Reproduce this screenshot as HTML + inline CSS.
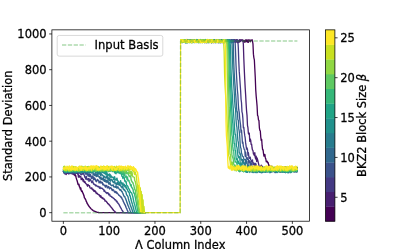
<!DOCTYPE html>
<html><head><meta charset="utf-8"><title>BKZ2 Standard Deviation</title>
<style>html,body{margin:0;padding:0;background:#fff;}body{width:415px;height:249px;overflow:hidden;}svg{display:block;}</style>
</head><body>
<svg width="415" height="249" viewBox="0 0 415 249">
<rect width="415" height="249" fill="#fff"/>
<g fill="none" stroke-width="1.15" stroke-linejoin="round" stroke-linecap="butt">
<polyline stroke="#440154" stroke-width="1.4" points="63.36,171.93 63.82,170.80 64.28,171.31 64.73,173.61 65.19,173.29 65.65,170.90 66.11,174.53 66.57,171.11 67.02,171.22 67.48,172.59 67.94,173.28 68.40,173.38 68.86,173.48 69.31,172.69 69.77,172.44 70.23,172.23 70.69,170.39 71.15,171.23 71.60,171.95 72.06,170.41 72.52,173.65 72.98,173.88 73.44,171.99 73.89,174.42 74.35,175.06 74.81,174.21 75.27,175.80 75.73,175.56 76.18,177.89 76.64,179.40 77.10,180.55 77.56,182.44 78.02,184.23 78.47,184.71 78.93,184.28 79.39,186.70 79.85,187.21 80.31,189.12 80.76,187.99 81.22,190.60 81.68,191.28 82.14,190.92 82.60,192.74 83.05,193.13 83.51,194.65 83.97,195.60 84.43,197.80 84.89,198.18 85.34,199.30 85.80,199.86 86.26,201.45 86.72,202.07 87.18,203.50 87.63,204.02 88.09,204.90 88.55,205.80 89.01,206.07 89.47,207.02 89.92,207.29 90.38,208.01 90.84,208.49 91.30,208.94 91.76,209.35 92.21,209.90 92.67,210.17 93.13,210.53 93.59,210.78 94.05,211.07 94.50,211.17 94.96,211.50 95.42,211.65 95.88,211.87 96.34,212.00 96.79,212.16 97.25,212.30 97.71,212.37 98.17,212.46 98.63,212.54 99.08,212.61 99.54,212.65 100.00,212.67 100.46,212.67 100.92,212.67 101.37,212.67 101.83,212.67 102.29,212.67 102.75,212.67 103.21,212.67 103.66,212.67 104.12,212.67 104.58,212.67 105.04,212.67 105.50,212.67 105.95,212.67 106.41,212.67 106.87,212.67 107.33,212.67 107.79,212.67 108.24,212.67 108.70,212.67 109.16,212.67 109.62,212.67 110.08,212.67 110.53,212.67 110.99,212.67 111.45,212.67 111.91,212.67 112.37,212.67 112.82,212.67 113.28,212.67 113.74,212.67 114.20,212.67 114.66,212.67 115.11,212.67 115.57,212.67 116.03,212.67 116.49,212.67 116.95,212.67 117.40,212.67 117.86,212.67 118.32,212.67 118.78,212.67 119.24,212.67 119.69,212.67 120.15,212.67 120.61,212.67 121.07,212.67 121.53,212.67 121.98,212.67 122.44,212.67 122.90,212.67 123.36,212.67 123.82,212.67 124.27,212.67 124.73,212.67 125.19,212.67 125.65,212.67 126.11,212.67 126.56,212.67 127.02,212.67 127.48,212.67 127.94,212.67 128.40,212.67 128.85,212.67 129.31,212.67 129.77,212.67 130.23,212.67 130.69,212.67 131.14,212.67 131.60,212.67 132.06,212.67 132.52,212.67 132.98,212.67 133.43,212.67 133.89,212.67 134.35,212.67 134.81,212.67 135.27,212.67 135.72,212.67 136.18,212.67 136.64,212.67 137.10,212.67 137.56,212.67 138.01,212.67 138.47,212.67 138.93,212.67 139.39,212.67 139.85,212.67 140.30,212.67 140.76,212.67 141.22,212.67 141.68,212.67 142.14,212.67 142.59,212.67 143.05,212.67 143.51,212.67 143.97,212.67 144.43,212.67 144.88,212.67 145.34,212.67"/>
<polyline stroke="#440154" stroke-width="1.3" points="180.61,42.41 181.07,40.31 181.52,40.85 181.98,41.73 182.44,42.42 182.90,40.28 183.36,42.25 183.81,42.25 184.27,42.25 184.73,42.41 185.19,39.83 185.65,41.82 186.10,41.70 186.56,40.06 187.02,40.72 187.48,42.08 187.94,41.30 188.39,39.90 188.85,41.49 189.31,40.44 189.77,42.36 190.23,40.39 190.68,40.23 191.14,40.08 191.60,40.55 192.06,41.50 192.52,42.46 192.97,41.04 193.43,40.29 193.89,42.07 194.35,41.83 194.81,40.99 195.26,40.32 195.72,39.86 196.18,42.27 196.64,42.09 197.10,40.16 197.55,40.65 198.01,40.41 198.47,39.55 198.93,39.73 199.39,40.03 199.84,40.23 200.30,41.43 200.76,40.66 201.22,42.09 201.68,40.29 202.13,40.29 202.59,40.41 203.05,41.27 203.51,41.48 203.97,41.35 204.42,42.56 204.88,40.02 205.34,40.97 205.80,41.45 206.26,40.95 206.71,40.41 207.17,41.47 207.63,40.06 208.09,39.79 208.55,41.45 209.00,42.23 209.46,40.28 209.92,39.56 210.38,42.20 210.84,40.43 211.29,40.08 211.75,39.78 212.21,42.28 212.67,42.38 213.13,39.57 213.58,42.30 214.04,42.11 214.50,40.86 214.96,41.27 215.42,40.32 215.87,42.07 216.33,39.80 216.79,41.98 217.25,40.26 217.71,42.45 218.16,41.18 218.62,42.56 219.08,41.68 219.54,41.69 220.00,40.41 220.45,41.24 220.91,42.49 221.37,39.55 221.83,39.88 222.29,39.80 222.74,41.89 223.20,41.43 223.66,41.95 224.12,42.27 224.58,42.56 225.03,41.09 225.49,42.28 225.95,42.11 226.41,39.97 226.87,41.15 227.32,42.09 227.78,40.57 228.24,41.83 228.70,41.01 229.16,41.78 229.61,41.05 230.07,40.70 230.53,40.99 230.99,41.43 231.45,40.19 231.90,39.93 232.36,42.10 232.82,42.24 233.28,42.31 233.74,39.60 234.19,39.72 234.65,41.94 235.11,39.63 235.57,42.01 236.03,41.08 236.48,41.11 236.94,39.80 237.40,42.54 237.86,41.68 238.32,40.79 238.77,42.45 239.23,41.92 239.69,41.21 240.15,39.91 240.61,40.28 241.06,40.07 241.52,40.28 241.98,40.45 242.44,40.01 242.90,40.53 243.35,40.36 243.81,41.72 244.27,42.14 244.73,40.30 245.19,42.14 245.64,39.79 246.10,40.80 246.56,41.63 247.02,39.73 247.48,42.18 247.93,41.05 248.39,42.38 248.85,39.64 249.31,40.86 249.77,40.15 250.22,41.78 250.68,40.15 251.14,40.46 251.60,40.65 252.06,39.69 252.51,41.31 252.97,43.87 253.43,54.14 253.89,57.86 254.35,59.80 254.80,68.44 255.26,77.26 255.72,89.60 256.18,96.11 256.64,100.98 257.09,106.18 257.55,115.36 258.01,116.03 258.47,119.93 258.93,120.37 259.38,127.79 259.84,130.37 260.30,130.92 260.76,137.09 261.22,140.42 261.67,139.39 262.13,145.70 262.59,149.56 263.05,149.55 263.51,153.47 263.96,156.12 264.42,155.10 264.88,154.44 265.34,158.01 265.80,158.90 266.25,161.75 266.71,161.36 267.17,161.24 267.63,162.85 268.09,162.46 268.54,164.37 269.00,166.69 269.46,165.32 269.92,166.25 270.38,168.28 270.83,166.60 271.29,166.16 271.75,169.79 272.21,168.28 272.67,167.72 273.12,169.43 273.58,170.11 274.04,169.64 274.50,168.87 274.96,168.22 275.41,168.79 275.87,170.84 276.33,167.62 276.79,167.14 277.25,170.87 277.70,170.20 278.16,170.54 278.62,167.48 279.08,167.20 279.54,171.13 279.99,169.82 280.45,170.46 280.91,169.20 281.37,167.15 281.83,171.01 282.28,170.55 282.74,169.12 283.20,168.95 283.66,167.95 284.12,169.34 284.57,170.69 285.03,169.73 285.49,166.88 285.95,167.93 286.41,170.80 286.86,167.66 287.32,169.92 287.78,167.79 288.24,171.27 288.70,167.38 289.15,170.59 289.61,169.26 290.07,168.33 290.53,169.03 290.99,170.58 291.44,170.70 291.90,170.04 292.36,171.09 292.82,170.35 293.28,170.74 293.73,169.22 294.19,169.71 294.65,168.67 295.11,170.06 295.57,171.18 296.02,169.83 296.48,167.91 296.94,170.17 297.40,169.50"/>
<polyline stroke="#481f70" stroke-width="1.4" points="63.36,171.01 63.82,172.48 64.28,170.45 64.73,170.32 65.19,172.89 65.65,171.09 66.11,173.13 66.57,173.61 67.02,172.35 67.48,171.65 67.94,170.25 68.40,173.58 68.86,171.19 69.31,172.19 69.77,173.64 70.23,170.09 70.69,171.26 71.15,173.65 71.60,170.37 72.06,173.76 72.52,173.80 72.98,172.80 73.44,170.24 73.89,174.06 74.35,170.32 74.81,171.61 75.27,174.02 75.73,172.21 76.18,173.12 76.64,173.24 77.10,173.16 77.56,174.03 78.02,173.40 78.47,177.17 78.93,175.15 79.39,177.14 79.85,176.25 80.31,176.35 80.76,176.49 81.22,179.56 81.68,179.38 82.14,178.17 82.60,178.65 83.05,181.05 83.51,179.64 83.97,181.83 84.43,182.37 84.89,181.59 85.34,182.92 85.80,183.41 86.26,184.01 86.72,184.28 87.18,185.55 87.63,186.17 88.09,184.58 88.55,185.53 89.01,185.63 89.47,185.68 89.92,187.63 90.38,188.00 90.84,188.27 91.30,188.59 91.76,187.83 92.21,189.19 92.67,189.70 93.13,189.34 93.59,190.80 94.05,191.37 94.50,190.42 94.96,190.70 95.42,192.12 95.88,191.80 96.34,193.48 96.79,193.11 97.25,193.17 97.71,194.23 98.17,194.45 98.63,194.37 99.08,194.82 99.54,196.02 100.00,195.45 100.46,196.95 100.92,195.86 101.37,197.55 101.83,197.87 102.29,198.36 102.75,197.59 103.21,199.05 103.66,199.02 104.12,198.92 104.58,199.43 105.04,201.03 105.50,200.85 105.95,201.19 106.41,201.51 106.87,202.36 107.33,202.80 107.79,203.56 108.24,203.96 108.70,203.95 109.16,204.88 109.62,205.32 110.08,205.80 110.53,206.57 110.99,207.19 111.45,207.30 111.91,208.19 112.37,208.89 112.82,209.29 113.28,210.07 113.74,210.53 114.20,210.88 114.66,211.36 115.11,211.79 115.57,212.15 116.03,212.39 116.49,212.57 116.95,212.66 117.40,212.67 117.86,212.67 118.32,212.67 118.78,212.67 119.24,212.67 119.69,212.67 120.15,212.67 120.61,212.67 121.07,212.67 121.53,212.67 121.98,212.67 122.44,212.67 122.90,212.67 123.36,212.67 123.82,212.67 124.27,212.67 124.73,212.67 125.19,212.67 125.65,212.67 126.11,212.67 126.56,212.67 127.02,212.67 127.48,212.67 127.94,212.67 128.40,212.67 128.85,212.67 129.31,212.67 129.77,212.67 130.23,212.67 130.69,212.67 131.14,212.67 131.60,212.67 132.06,212.67 132.52,212.67 132.98,212.67 133.43,212.67 133.89,212.67 134.35,212.67 134.81,212.67 135.27,212.67 135.72,212.67 136.18,212.67 136.64,212.67 137.10,212.67 137.56,212.67 138.01,212.67 138.47,212.67 138.93,212.67 139.39,212.67 139.85,212.67 140.30,212.67 140.76,212.67 141.22,212.67 141.68,212.67 142.14,212.67 142.59,212.67 143.05,212.67 143.51,212.67 143.97,212.67 144.43,212.67 144.88,212.67 145.34,212.67"/>
<polyline stroke="#481f70" stroke-width="1.3" points="180.61,39.83 181.07,41.89 181.52,40.41 181.98,41.70 182.44,39.87 182.90,41.43 183.36,41.08 183.81,39.92 184.27,40.56 184.73,42.37 185.19,42.23 185.65,39.56 186.10,42.57 186.56,41.72 187.02,39.66 187.48,42.62 187.94,42.16 188.39,42.00 188.85,42.39 189.31,41.19 189.77,40.81 190.23,41.67 190.68,42.32 191.14,40.13 191.60,40.15 192.06,40.90 192.52,42.23 192.97,40.97 193.43,40.69 193.89,41.32 194.35,39.96 194.81,41.44 195.26,41.06 195.72,42.31 196.18,40.90 196.64,40.27 197.10,40.38 197.55,41.86 198.01,39.56 198.47,40.41 198.93,41.34 199.39,41.36 199.84,40.23 200.30,42.11 200.76,40.66 201.22,40.41 201.68,41.05 202.13,39.93 202.59,41.20 203.05,41.21 203.51,41.77 203.97,39.79 204.42,41.67 204.88,40.49 205.34,41.38 205.80,39.74 206.26,39.70 206.71,42.57 207.17,39.55 207.63,40.77 208.09,42.43 208.55,41.11 209.00,42.51 209.46,40.95 209.92,42.08 210.38,41.51 210.84,41.71 211.29,40.78 211.75,40.09 212.21,39.73 212.67,41.63 213.13,40.88 213.58,42.64 214.04,41.50 214.50,39.66 214.96,42.29 215.42,39.94 215.87,40.62 216.33,41.74 216.79,40.23 217.25,41.76 217.71,39.86 218.16,42.40 218.62,42.29 219.08,40.32 219.54,41.26 220.00,42.20 220.45,41.06 220.91,41.73 221.37,40.94 221.83,40.34 222.29,39.98 222.74,42.48 223.20,40.81 223.66,39.59 224.12,41.22 224.58,40.26 225.03,42.36 225.49,39.93 225.95,40.84 226.41,39.88 226.87,40.20 227.32,39.94 227.78,42.48 228.24,40.42 228.70,42.05 229.16,41.83 229.61,41.65 230.07,40.81 230.53,40.70 230.99,39.75 231.45,42.62 231.90,42.06 232.36,41.53 232.82,40.10 233.28,40.94 233.74,41.06 234.19,40.29 234.65,40.61 235.11,41.76 235.57,42.39 236.03,41.22 236.48,39.91 236.94,40.79 237.40,42.50 237.86,41.29 238.32,41.46 238.77,40.84 239.23,40.83 239.69,39.69 240.15,41.61 240.61,41.39 241.06,40.74 241.52,39.89 241.98,40.45 242.44,41.19 242.90,40.11 243.35,44.25 243.81,58.45 244.27,69.40 244.73,78.92 245.19,87.77 245.64,94.77 246.10,103.46 246.56,110.76 247.02,115.34 247.48,125.34 247.93,127.55 248.39,133.38 248.85,134.29 249.31,133.20 249.77,141.26 250.22,138.95 250.68,140.19 251.14,144.35 251.60,144.11 252.06,148.01 252.51,150.05 252.97,150.48 253.43,153.83 253.89,154.42 254.35,155.63 254.80,152.68 255.26,157.59 255.72,159.18 256.18,156.11 256.64,161.52 257.09,157.89 257.55,159.42 258.01,161.38 258.47,163.34 258.93,165.27 259.38,166.43 259.84,167.08 260.30,166.50 260.76,166.89 261.22,165.12 261.67,167.61 262.13,166.10 262.59,167.82 263.05,170.73 263.51,169.00 263.96,170.78 264.42,171.32 264.88,167.24 265.34,169.97 265.80,170.64 266.25,171.04 266.71,168.55 267.17,169.42 267.63,171.45 268.09,168.27 268.54,170.34 269.00,167.97 269.46,169.29 269.92,169.08 270.38,169.43 270.83,168.45 271.29,167.03 271.75,167.90 272.21,171.19 272.67,169.26 273.12,170.44 273.58,171.04 274.04,170.62 274.50,170.38 274.96,167.16 275.41,168.14 275.87,167.65 276.33,168.34 276.79,170.07 277.25,169.73 277.70,169.51 278.16,170.17 278.62,169.60 279.08,168.02 279.54,171.16 279.99,170.25 280.45,169.34 280.91,168.45 281.37,168.58 281.83,168.22 282.28,171.02 282.74,170.68 283.20,170.10 283.66,170.23 284.12,168.09 284.57,167.01 285.03,168.41 285.49,171.35 285.95,170.16 286.41,167.87 286.86,167.32 287.32,168.81 287.78,169.92 288.24,169.90 288.70,168.64 289.15,167.60 289.61,169.96 290.07,170.64 290.53,171.49 290.99,170.88 291.44,167.65 291.90,168.68 292.36,167.03 292.82,171.19 293.28,169.85 293.73,167.91 294.19,168.51 294.65,171.20 295.11,169.69 295.57,168.62 296.02,168.39 296.48,169.46 296.94,170.65 297.40,167.14"/>
<polyline stroke="#443983" stroke-width="1.4" points="63.36,171.86 63.82,170.79 64.28,171.56 64.73,173.50 65.19,172.83 65.65,173.57 66.11,173.03 66.57,172.99 67.02,172.08 67.48,172.47 67.94,172.30 68.40,170.36 68.86,173.75 69.31,173.40 69.77,170.40 70.23,171.57 70.69,171.97 71.15,172.70 71.60,171.53 72.06,172.90 72.52,170.19 72.98,170.33 73.44,172.47 73.89,173.74 74.35,170.06 74.81,172.57 75.27,171.05 75.73,170.19 76.18,170.44 76.64,170.17 77.10,171.76 77.56,170.26 78.02,171.91 78.47,172.84 78.93,172.06 79.39,172.87 79.85,171.29 80.31,171.31 80.76,174.48 81.22,174.72 81.68,174.18 82.14,174.25 82.60,172.69 83.05,173.18 83.51,173.51 83.97,174.86 84.43,175.48 84.89,177.41 85.34,177.41 85.80,179.13 86.26,176.43 86.72,178.78 87.18,179.80 87.63,179.28 88.09,179.59 88.55,178.53 89.01,181.34 89.47,180.91 89.92,179.00 90.38,179.50 90.84,180.60 91.30,181.18 91.76,182.61 92.21,180.87 92.67,181.59 93.13,182.71 93.59,184.14 94.05,184.31 94.50,184.15 94.96,184.63 95.42,185.75 95.88,185.07 96.34,185.28 96.79,186.07 97.25,186.11 97.71,186.58 98.17,186.77 98.63,186.43 99.08,187.07 99.54,188.17 100.00,186.92 100.46,187.96 100.92,188.41 101.37,188.08 101.83,188.31 102.29,188.39 102.75,188.81 103.21,189.48 103.66,189.68 104.12,191.31 104.58,190.39 105.04,191.73 105.50,192.05 105.95,192.68 106.41,192.42 106.87,193.56 107.33,192.60 107.79,192.78 108.24,193.12 108.70,194.76 109.16,194.15 109.62,194.18 110.08,196.04 110.53,196.14 110.99,196.40 111.45,196.47 111.91,197.36 112.37,197.17 112.82,197.90 113.28,197.86 113.74,198.49 114.20,198.71 114.66,199.78 115.11,199.63 115.57,200.07 116.03,200.58 116.49,201.86 116.95,201.35 117.40,202.29 117.86,203.13 118.32,203.55 118.78,204.17 119.24,204.94 119.69,205.95 120.15,206.78 120.61,207.58 121.07,208.25 121.53,209.24 121.98,210.14 122.44,210.75 122.90,211.42 123.36,211.95 123.82,212.30 124.27,212.58 124.73,212.67 125.19,212.67 125.65,212.67 126.11,212.67 126.56,212.67 127.02,212.67 127.48,212.67 127.94,212.67 128.40,212.67 128.85,212.67 129.31,212.67 129.77,212.67 130.23,212.67 130.69,212.67 131.14,212.67 131.60,212.67 132.06,212.67 132.52,212.67 132.98,212.67 133.43,212.67 133.89,212.67 134.35,212.67 134.81,212.67 135.27,212.67 135.72,212.67 136.18,212.67 136.64,212.67 137.10,212.67 137.56,212.67 138.01,212.67 138.47,212.67 138.93,212.67 139.39,212.67 139.85,212.67 140.30,212.67 140.76,212.67 141.22,212.67 141.68,212.67 142.14,212.67 142.59,212.67 143.05,212.67 143.51,212.67 143.97,212.67 144.43,212.67 144.88,212.67 145.34,212.67"/>
<polyline stroke="#443983" stroke-width="1.3" points="180.61,39.62 181.07,42.64 181.52,41.74 181.98,40.09 182.44,42.36 182.90,39.76 183.36,40.05 183.81,42.22 184.27,40.81 184.73,40.93 185.19,40.49 185.65,41.70 186.10,41.46 186.56,41.91 187.02,41.75 187.48,42.11 187.94,39.83 188.39,39.89 188.85,41.54 189.31,40.49 189.77,41.13 190.23,41.78 190.68,41.57 191.14,39.64 191.60,41.59 192.06,40.85 192.52,39.71 192.97,41.73 193.43,40.13 193.89,42.31 194.35,40.37 194.81,40.14 195.26,40.04 195.72,39.61 196.18,40.44 196.64,39.61 197.10,41.79 197.55,41.03 198.01,41.99 198.47,42.40 198.93,41.29 199.39,40.41 199.84,40.23 200.30,42.61 200.76,39.72 201.22,41.89 201.68,41.75 202.13,40.06 202.59,39.87 203.05,40.36 203.51,41.62 203.97,41.22 204.42,40.05 204.88,41.55 205.34,40.14 205.80,40.22 206.26,41.20 206.71,39.86 207.17,41.46 207.63,40.32 208.09,40.66 208.55,41.63 209.00,41.00 209.46,40.77 209.92,40.98 210.38,42.32 210.84,39.56 211.29,39.64 211.75,42.55 212.21,39.71 212.67,41.00 213.13,42.27 213.58,40.10 214.04,41.31 214.50,40.43 214.96,40.08 215.42,40.98 215.87,42.51 216.33,40.09 216.79,40.49 217.25,39.82 217.71,41.82 218.16,40.21 218.62,39.93 219.08,41.55 219.54,41.38 220.00,41.62 220.45,42.64 220.91,41.94 221.37,41.63 221.83,42.32 222.29,40.27 222.74,41.33 223.20,40.89 223.66,41.77 224.12,41.54 224.58,40.31 225.03,41.19 225.49,40.80 225.95,41.34 226.41,40.92 226.87,39.86 227.32,41.83 227.78,41.04 228.24,40.51 228.70,42.39 229.16,39.65 229.61,41.10 230.07,41.90 230.53,40.28 230.99,40.11 231.45,40.69 231.90,39.80 232.36,42.38 232.82,41.01 233.28,40.34 233.74,39.80 234.19,40.66 234.65,40.78 235.11,41.45 235.57,40.87 236.03,40.93 236.48,39.83 236.94,40.08 237.40,40.36 237.86,39.77 238.32,47.85 238.77,61.30 239.23,71.14 239.69,77.18 240.15,84.12 240.61,90.53 241.06,99.26 241.52,102.78 241.98,111.95 242.44,113.68 242.90,118.62 243.35,127.78 243.81,127.19 244.27,131.91 244.73,135.45 245.19,137.85 245.64,142.92 246.10,145.86 246.56,149.18 247.02,147.95 247.48,149.37 247.93,155.26 248.39,152.60 248.85,156.54 249.31,157.91 249.77,158.58 250.22,157.14 250.68,159.54 251.14,160.49 251.60,162.03 252.06,161.53 252.51,159.84 252.97,164.54 253.43,162.80 253.89,162.86 254.35,166.32 254.80,165.71 255.26,163.31 255.72,163.57 256.18,165.03 256.64,169.00 257.09,166.94 257.55,169.02 258.01,170.80 258.47,169.74 258.93,167.89 259.38,168.09 259.84,170.26 260.30,171.73 260.76,167.99 261.22,167.61 261.67,169.73 262.13,171.00 262.59,169.58 263.05,168.90 263.51,169.86 263.96,170.43 264.42,170.90 264.88,170.68 265.34,171.79 265.80,170.87 266.25,167.76 266.71,171.97 267.17,168.76 267.63,168.49 268.09,170.20 268.54,169.35 269.00,171.02 269.46,169.03 269.92,168.85 270.38,168.73 270.83,169.81 271.29,167.68 271.75,168.14 272.21,169.45 272.67,168.96 273.12,170.78 273.58,167.80 274.04,169.13 274.50,168.02 274.96,170.72 275.41,167.63 275.87,171.54 276.33,169.64 276.79,171.51 277.25,171.16 277.70,168.60 278.16,171.71 278.62,170.30 279.08,171.15 279.54,168.21 279.99,171.64 280.45,170.51 280.91,168.19 281.37,168.94 281.83,168.87 282.28,167.59 282.74,171.90 283.20,169.04 283.66,168.68 284.12,168.67 284.57,168.82 285.03,171.69 285.49,171.63 285.95,168.56 286.41,169.28 286.86,170.84 287.32,171.97 287.78,169.63 288.24,171.60 288.70,168.67 289.15,170.49 289.61,168.41 290.07,171.58 290.53,169.80 290.99,171.56 291.44,168.53 291.90,169.51 292.36,170.96 292.82,167.71 293.28,168.97 293.73,170.51 294.19,168.19 294.65,170.31 295.11,167.80 295.57,170.68 296.02,167.62 296.48,171.73 296.94,168.73 297.40,170.71"/>
<polyline stroke="#3b528b" stroke-width="1.4" points="63.36,171.67 63.82,170.76 64.28,173.29 64.73,172.53 65.19,173.04 65.65,170.31 66.11,172.54 66.57,171.35 67.02,172.08 67.48,172.48 67.94,169.47 68.40,171.31 68.86,170.69 69.31,170.46 69.77,169.96 70.23,172.36 70.69,173.15 71.15,171.48 71.60,172.76 72.06,173.40 72.52,169.54 72.98,170.80 73.44,171.71 73.89,172.90 74.35,170.22 74.81,171.20 75.27,172.74 75.73,169.27 76.18,169.40 76.64,169.51 77.10,169.94 77.56,171.21 78.02,172.20 78.47,170.69 78.93,172.84 79.39,170.84 79.85,173.21 80.31,173.43 80.76,170.41 81.22,172.02 81.68,170.49 82.14,170.14 82.60,169.90 83.05,170.87 83.51,169.97 83.97,170.90 84.43,169.94 84.89,170.30 85.34,174.15 85.80,173.49 86.26,173.29 86.72,174.18 87.18,174.83 87.63,172.38 88.09,176.16 88.55,175.90 89.01,174.00 89.47,176.47 89.92,176.69 90.38,174.35 90.84,175.47 91.30,176.97 91.76,178.42 92.21,178.21 92.67,175.90 93.13,176.90 93.59,179.78 94.05,177.80 94.50,179.27 94.96,178.36 95.42,180.13 95.88,180.98 96.34,181.64 96.79,181.00 97.25,179.40 97.71,179.61 98.17,180.60 98.63,180.69 99.08,182.77 99.54,182.55 100.00,181.12 100.46,181.15 100.92,183.14 101.37,182.41 101.83,182.23 102.29,182.34 102.75,184.72 103.21,183.95 103.66,185.00 104.12,185.06 104.58,185.34 105.04,186.13 105.50,187.12 105.95,185.30 106.41,185.77 106.87,185.65 107.33,187.78 107.79,187.82 108.24,187.14 108.70,186.53 109.16,188.01 109.62,188.98 110.08,188.26 110.53,187.64 110.99,188.16 111.45,188.39 111.91,189.87 112.37,190.52 112.82,189.40 113.28,189.92 113.74,190.10 114.20,191.47 114.66,192.02 115.11,192.43 115.57,191.39 116.03,191.62 116.49,193.09 116.95,192.38 117.40,193.72 117.86,193.93 118.32,194.07 118.78,195.11 119.24,195.42 119.69,195.85 120.15,196.32 120.61,196.38 121.07,197.60 121.53,197.14 121.98,198.85 122.44,199.34 122.90,200.07 123.36,201.72 123.82,202.45 124.27,203.36 124.73,204.41 125.19,205.13 125.65,206.16 126.11,207.58 126.56,208.33 127.02,209.57 127.48,210.59 127.94,211.56 128.40,212.21 128.85,212.60 129.31,212.67 129.77,212.67 130.23,212.67 130.69,212.67 131.14,212.67 131.60,212.67 132.06,212.67 132.52,212.67 132.98,212.67 133.43,212.67 133.89,212.67 134.35,212.67 134.81,212.67 135.27,212.67 135.72,212.67 136.18,212.67 136.64,212.67 137.10,212.67 137.56,212.67 138.01,212.67 138.47,212.67 138.93,212.67 139.39,212.67 139.85,212.67 140.30,212.67 140.76,212.67 141.22,212.67 141.68,212.67 142.14,212.67 142.59,212.67 143.05,212.67 143.51,212.67 143.97,212.67 144.43,212.67 144.88,212.67 145.34,212.67"/>
<polyline stroke="#3b528b" stroke-width="1.3" points="180.61,40.72 181.07,41.84 181.52,40.11 181.98,42.03 182.44,41.35 182.90,41.98 183.36,39.97 183.81,40.73 184.27,40.69 184.73,41.68 185.19,42.11 185.65,39.98 186.10,40.27 186.56,40.37 187.02,39.54 187.48,40.91 187.94,42.10 188.39,40.76 188.85,41.76 189.31,41.06 189.77,41.23 190.23,40.90 190.68,39.78 191.14,40.13 191.60,41.36 192.06,40.11 192.52,39.97 192.97,40.24 193.43,40.94 193.89,39.85 194.35,41.12 194.81,42.33 195.26,41.81 195.72,40.61 196.18,41.48 196.64,41.34 197.10,41.40 197.55,42.06 198.01,42.37 198.47,42.51 198.93,40.56 199.39,41.65 199.84,41.23 200.30,39.74 200.76,40.70 201.22,40.13 201.68,40.28 202.13,39.68 202.59,42.45 203.05,41.46 203.51,39.69 203.97,41.21 204.42,39.70 204.88,42.08 205.34,42.47 205.80,39.86 206.26,41.38 206.71,41.07 207.17,39.73 207.63,41.98 208.09,39.63 208.55,41.42 209.00,41.89 209.46,41.93 209.92,41.04 210.38,41.20 210.84,39.89 211.29,42.50 211.75,42.53 212.21,42.18 212.67,40.77 213.13,40.22 213.58,41.16 214.04,40.74 214.50,40.65 214.96,42.60 215.42,41.89 215.87,39.54 216.33,41.63 216.79,39.70 217.25,41.12 217.71,41.97 218.16,42.66 218.62,41.98 219.08,41.66 219.54,41.29 220.00,41.26 220.45,40.95 220.91,41.18 221.37,42.56 221.83,41.83 222.29,39.65 222.74,42.58 223.20,40.37 223.66,41.17 224.12,40.45 224.58,41.62 225.03,41.50 225.49,41.05 225.95,39.82 226.41,41.64 226.87,42.39 227.32,42.54 227.78,39.91 228.24,41.68 228.70,42.29 229.16,40.80 229.61,40.02 230.07,40.79 230.53,42.19 230.99,41.39 231.45,41.83 231.90,42.61 232.36,39.64 232.82,41.23 233.28,42.24 233.74,39.89 234.19,39.58 234.65,40.11 235.11,41.87 235.57,52.54 236.03,65.31 236.48,74.56 236.94,82.50 237.40,89.96 237.86,94.78 238.32,104.32 238.77,109.96 239.23,112.35 239.69,118.33 240.15,122.10 240.61,125.38 241.06,132.50 241.52,130.22 241.98,135.89 242.44,143.19 242.90,142.15 243.35,146.37 243.81,147.84 244.27,149.56 244.73,149.56 245.19,156.26 245.64,152.08 246.10,156.19 246.56,158.68 247.02,158.52 247.48,159.39 247.93,157.29 248.39,160.16 248.85,163.40 249.31,160.68 249.77,162.55 250.22,161.63 250.68,166.24 251.14,162.80 251.60,163.37 252.06,168.44 252.51,167.00 252.97,169.52 253.43,168.45 253.89,171.19 254.35,168.22 254.80,171.74 255.26,169.75 255.72,169.82 256.18,171.28 256.64,171.74 257.09,168.67 257.55,172.51 258.01,171.57 258.47,171.25 258.93,170.12 259.38,171.07 259.84,172.20 260.30,170.18 260.76,169.51 261.22,169.59 261.67,170.54 262.13,171.34 262.59,172.64 263.05,170.35 263.51,169.93 263.96,170.75 264.42,168.48 264.88,171.80 265.34,169.11 265.80,169.53 266.25,168.74 266.71,168.63 267.17,171.65 267.63,168.64 268.09,170.92 268.54,169.71 269.00,168.51 269.46,170.07 269.92,170.13 270.38,172.37 270.83,170.07 271.29,171.63 271.75,170.98 272.21,171.03 272.67,168.42 273.12,169.89 273.58,169.51 274.04,171.93 274.50,171.35 274.96,168.84 275.41,172.16 275.87,168.50 276.33,170.81 276.79,170.97 277.25,170.43 277.70,170.74 278.16,170.62 278.62,170.83 279.08,169.61 279.54,171.47 279.99,171.96 280.45,170.78 280.91,172.30 281.37,170.72 281.83,170.52 282.28,169.24 282.74,172.21 283.20,170.94 283.66,169.26 284.12,171.20 284.57,169.02 285.03,169.53 285.49,172.50 285.95,171.00 286.41,169.32 286.86,170.38 287.32,169.73 287.78,168.34 288.24,169.72 288.70,170.29 289.15,168.97 289.61,170.80 290.07,172.64 290.53,171.49 290.99,170.08 291.44,168.53 291.90,170.02 292.36,171.44 292.82,168.33 293.28,170.93 293.73,171.69 294.19,170.26 294.65,171.18 295.11,172.20 295.57,169.56 296.02,169.65 296.48,168.42 296.94,172.09 297.40,168.69"/>
<polyline stroke="#31688e" stroke-width="1.4" points="63.36,169.68 63.82,172.04 64.28,171.06 64.73,170.40 65.19,171.77 65.65,172.67 66.11,169.51 66.57,172.42 67.02,171.01 67.48,171.24 67.94,169.22 68.40,170.71 68.86,171.30 69.31,168.90 69.77,171.61 70.23,169.99 70.69,172.12 71.15,169.85 71.60,169.88 72.06,169.55 72.52,171.03 72.98,172.17 73.44,170.40 73.89,169.19 74.35,171.79 74.81,173.05 75.27,172.33 75.73,169.09 76.18,173.11 76.64,172.90 77.10,172.71 77.56,169.27 78.02,171.47 78.47,170.14 78.93,170.08 79.39,171.25 79.85,169.96 80.31,171.14 80.76,170.79 81.22,171.81 81.68,173.13 82.14,170.56 82.60,171.99 83.05,171.94 83.51,169.33 83.97,171.57 84.43,172.69 84.89,170.40 85.34,170.80 85.80,172.89 86.26,171.62 86.72,170.49 87.18,171.92 87.63,168.86 88.09,169.67 88.55,170.95 89.01,169.19 89.47,173.06 89.92,172.34 90.38,169.49 90.84,171.41 91.30,173.04 91.76,171.56 92.21,171.13 92.67,171.94 93.13,174.55 93.59,174.87 94.05,173.66 94.50,175.58 94.96,175.63 95.42,173.73 95.88,174.90 96.34,176.63 96.79,173.91 97.25,176.22 97.71,174.61 98.17,175.99 98.63,176.28 99.08,177.34 99.54,176.72 100.00,178.58 100.46,178.79 100.92,176.85 101.37,179.53 101.83,179.16 102.29,178.18 102.75,179.91 103.21,180.07 103.66,178.50 104.12,181.17 104.58,181.33 105.04,179.47 105.50,181.78 105.95,181.87 106.41,180.37 106.87,182.46 107.33,180.59 107.79,181.44 108.24,181.65 108.70,183.84 109.16,184.12 109.62,182.74 110.08,182.76 110.53,184.80 110.99,185.08 111.45,185.18 111.91,185.71 112.37,185.10 112.82,185.09 113.28,184.96 113.74,186.80 114.20,186.64 114.66,187.08 115.11,186.89 115.57,187.37 116.03,185.60 116.49,187.38 116.95,188.28 117.40,187.20 117.86,186.73 118.32,187.53 118.78,188.26 119.24,189.29 119.69,189.62 120.15,190.26 120.61,189.55 121.07,190.12 121.53,191.45 121.98,191.34 122.44,192.53 122.90,193.26 123.36,194.87 123.82,195.74 124.27,196.60 124.73,196.42 125.19,197.68 125.65,198.69 126.11,199.99 126.56,201.23 127.02,202.84 127.48,203.70 127.94,205.33 128.40,206.03 128.85,207.50 129.31,208.29 129.77,209.65 130.23,210.99 130.69,211.87 131.14,212.50 131.60,212.67 132.06,212.67 132.52,212.67 132.98,212.67 133.43,212.67 133.89,212.67 134.35,212.67 134.81,212.67 135.27,212.67 135.72,212.67 136.18,212.67 136.64,212.67 137.10,212.67 137.56,212.67 138.01,212.67 138.47,212.67 138.93,212.67 139.39,212.67 139.85,212.67 140.30,212.67 140.76,212.67 141.22,212.67 141.68,212.67 142.14,212.67 142.59,212.67 143.05,212.67 143.51,212.67 143.97,212.67 144.43,212.67 144.88,212.67 145.34,212.67"/>
<polyline stroke="#31688e" stroke-width="1.3" points="180.61,40.35 181.07,41.62 181.52,40.38 181.98,40.25 182.44,42.24 182.90,40.30 183.36,39.71 183.81,40.89 184.27,40.65 184.73,41.65 185.19,42.12 185.65,40.33 186.10,40.10 186.56,42.02 187.02,42.31 187.48,41.56 187.94,40.70 188.39,41.52 188.85,39.65 189.31,40.19 189.77,39.80 190.23,40.79 190.68,40.30 191.14,39.69 191.60,42.55 192.06,40.86 192.52,42.08 192.97,40.18 193.43,41.94 193.89,40.34 194.35,41.62 194.81,40.62 195.26,40.54 195.72,39.82 196.18,39.93 196.64,41.29 197.10,40.51 197.55,42.09 198.01,42.36 198.47,40.43 198.93,39.83 199.39,40.33 199.84,41.05 200.30,40.69 200.76,40.38 201.22,40.88 201.68,41.53 202.13,40.00 202.59,41.51 203.05,39.84 203.51,40.16 203.97,40.18 204.42,40.06 204.88,39.58 205.34,39.57 205.80,41.09 206.26,41.48 206.71,40.37 207.17,39.64 207.63,40.69 208.09,42.58 208.55,42.54 209.00,41.21 209.46,40.20 209.92,39.89 210.38,41.49 210.84,41.05 211.29,41.06 211.75,42.37 212.21,42.66 212.67,41.02 213.13,41.09 213.58,39.96 214.04,42.09 214.50,40.00 214.96,41.81 215.42,40.98 215.87,40.45 216.33,42.21 216.79,39.70 217.25,39.67 217.71,39.63 218.16,42.66 218.62,40.65 219.08,40.56 219.54,39.91 220.00,42.03 220.45,42.27 220.91,40.13 221.37,41.84 221.83,42.46 222.29,42.38 222.74,40.64 223.20,40.99 223.66,40.32 224.12,40.14 224.58,42.65 225.03,39.74 225.49,39.91 225.95,39.74 226.41,40.26 226.87,41.46 227.32,41.89 227.78,39.81 228.24,41.35 228.70,41.14 229.16,40.48 229.61,40.51 230.07,40.49 230.53,40.71 230.99,41.07 231.45,40.26 231.90,41.42 232.36,41.84 232.82,39.82 233.28,43.33 233.74,61.41 234.19,72.47 234.65,79.93 235.11,85.85 235.57,93.24 236.03,98.78 236.48,106.49 236.94,111.89 237.40,111.68 237.86,119.69 238.32,120.40 238.77,128.65 239.23,131.19 239.69,135.52 240.15,143.60 240.61,147.65 241.06,148.59 241.52,153.28 241.98,154.04 242.44,156.12 242.90,156.66 243.35,156.91 243.81,158.73 244.27,159.51 244.73,159.59 245.19,159.38 245.64,163.62 246.10,159.29 246.56,163.00 247.02,161.17 247.48,166.53 247.93,166.97 248.39,167.49 248.85,164.44 249.31,167.81 249.77,166.77 250.22,168.38 250.68,171.82 251.14,171.09 251.60,171.41 252.06,170.88 252.51,169.56 252.97,172.49 253.43,168.81 253.89,170.77 254.35,171.26 254.80,169.81 255.26,171.65 255.72,169.74 256.18,171.04 256.64,170.77 257.09,172.03 257.55,171.97 258.01,169.09 258.47,170.34 258.93,171.01 259.38,169.47 259.84,168.87 260.30,172.16 260.76,168.50 261.22,172.79 261.67,170.17 262.13,171.70 262.59,171.75 263.05,170.69 263.51,170.22 263.96,170.95 264.42,169.74 264.88,168.70 265.34,172.12 265.80,171.82 266.25,170.19 266.71,171.06 267.17,171.48 267.63,170.65 268.09,169.81 268.54,168.89 269.00,168.75 269.46,169.28 269.92,171.34 270.38,168.99 270.83,169.75 271.29,172.09 271.75,168.69 272.21,171.77 272.67,169.88 273.12,169.82 273.58,168.89 274.04,169.94 274.50,168.56 274.96,172.59 275.41,172.69 275.87,172.00 276.33,170.34 276.79,171.00 277.25,172.49 277.70,171.97 278.16,170.32 278.62,171.10 279.08,169.52 279.54,170.82 279.99,169.02 280.45,169.54 280.91,170.70 281.37,171.29 281.83,171.92 282.28,171.58 282.74,171.30 283.20,171.28 283.66,172.07 284.12,170.79 284.57,172.37 285.03,169.06 285.49,170.45 285.95,172.44 286.41,171.42 286.86,171.74 287.32,172.17 287.78,170.76 288.24,172.05 288.70,172.19 289.15,169.79 289.61,170.98 290.07,169.92 290.53,170.80 290.99,170.65 291.44,171.50 291.90,170.99 292.36,170.75 292.82,171.36 293.28,169.25 293.73,171.78 294.19,171.89 294.65,171.35 295.11,169.43 295.57,169.15 296.02,170.39 296.48,171.28 296.94,170.02 297.40,169.24"/>
<polyline stroke="#287c8e" stroke-width="1.4" points="63.36,171.72 63.82,169.86 64.28,169.68 64.73,171.08 65.19,172.15 65.65,170.13 66.11,171.86 66.57,171.17 67.02,170.40 67.48,168.57 67.94,172.14 68.40,172.46 68.86,170.43 69.31,168.66 69.77,172.58 70.23,169.97 70.69,172.66 71.15,170.37 71.60,172.26 72.06,169.90 72.52,171.20 72.98,169.92 73.44,171.65 73.89,172.46 74.35,171.99 74.81,171.59 75.27,172.06 75.73,171.92 76.18,170.40 76.64,170.87 77.10,169.17 77.56,170.61 78.02,170.42 78.47,169.68 78.93,169.05 79.39,170.23 79.85,172.62 80.31,170.77 80.76,172.64 81.22,170.14 81.68,172.50 82.14,170.42 82.60,172.13 83.05,169.04 83.51,172.37 83.97,169.90 84.43,169.70 84.89,171.58 85.34,170.19 85.80,171.34 86.26,171.65 86.72,171.65 87.18,172.71 87.63,169.84 88.09,172.47 88.55,171.92 89.01,172.40 89.47,169.26 89.92,170.47 90.38,170.74 90.84,170.23 91.30,169.25 91.76,170.05 92.21,170.54 92.67,171.41 93.13,170.52 93.59,168.46 94.05,170.31 94.50,170.76 94.96,169.04 95.42,172.78 95.88,172.86 96.34,169.87 96.79,169.39 97.25,173.42 97.71,173.74 98.17,174.02 98.63,171.87 99.08,173.98 99.54,172.49 100.00,172.36 100.46,175.31 100.92,172.14 101.37,174.95 101.83,174.06 102.29,175.17 102.75,175.53 103.21,175.62 103.66,177.48 104.12,176.16 104.58,177.09 105.04,177.04 105.50,178.06 105.95,177.71 106.41,176.64 106.87,175.88 107.33,179.00 107.79,176.85 108.24,178.02 108.70,180.11 109.16,180.68 109.62,177.92 110.08,180.44 110.53,181.15 110.99,179.55 111.45,179.67 111.91,179.32 112.37,180.92 112.82,181.81 113.28,182.06 113.74,182.70 114.20,181.59 114.66,180.88 115.11,183.82 115.57,183.11 116.03,183.45 116.49,184.51 116.95,183.17 117.40,182.23 117.86,184.59 118.32,183.50 118.78,183.25 119.24,185.37 119.69,183.78 120.15,184.59 120.61,185.21 121.07,186.82 121.53,186.96 121.98,187.83 122.44,186.17 122.90,186.94 123.36,189.39 123.82,188.92 124.27,190.40 124.73,189.88 125.19,191.15 125.65,191.22 126.11,192.62 126.56,194.79 127.02,195.23 127.48,195.87 127.94,196.53 128.40,198.73 128.85,200.43 129.31,201.79 129.77,203.32 130.23,204.82 130.69,205.98 131.14,207.28 131.60,208.54 132.06,209.84 132.52,211.14 132.98,212.18 133.43,212.64 133.89,212.67 134.35,212.67 134.81,212.67 135.27,212.67 135.72,212.67 136.18,212.67 136.64,212.67 137.10,212.67 137.56,212.67 138.01,212.67 138.47,212.67 138.93,212.67 139.39,212.67 139.85,212.67 140.30,212.67 140.76,212.67 141.22,212.67 141.68,212.67 142.14,212.67 142.59,212.67 143.05,212.67 143.51,212.67 143.97,212.67 144.43,212.67 144.88,212.67 145.34,212.67"/>
<polyline stroke="#287c8e" stroke-width="1.3" points="180.61,42.61 181.07,41.49 181.52,41.77 181.98,39.93 182.44,42.62 182.90,40.64 183.36,40.37 183.81,41.36 184.27,41.10 184.73,41.89 185.19,41.87 185.65,42.50 186.10,39.83 186.56,42.57 187.02,42.23 187.48,40.40 187.94,41.23 188.39,41.06 188.85,41.74 189.31,42.16 189.77,40.16 190.23,42.28 190.68,41.74 191.14,40.31 191.60,41.73 192.06,39.69 192.52,42.11 192.97,41.01 193.43,40.98 193.89,41.10 194.35,40.24 194.81,42.52 195.26,40.96 195.72,40.19 196.18,42.50 196.64,40.95 197.10,41.28 197.55,41.40 198.01,40.98 198.47,40.71 198.93,40.46 199.39,39.85 199.84,40.61 200.30,39.54 200.76,40.58 201.22,41.82 201.68,42.20 202.13,42.44 202.59,41.82 203.05,42.29 203.51,40.53 203.97,40.51 204.42,40.75 204.88,41.47 205.34,41.21 205.80,41.85 206.26,39.79 206.71,42.61 207.17,41.66 207.63,40.87 208.09,42.10 208.55,39.99 209.00,41.16 209.46,41.50 209.92,42.47 210.38,41.78 210.84,40.82 211.29,41.78 211.75,42.52 212.21,40.85 212.67,41.71 213.13,40.02 213.58,40.50 214.04,40.41 214.50,39.88 214.96,40.13 215.42,41.63 215.87,40.88 216.33,41.85 216.79,42.03 217.25,42.02 217.71,42.32 218.16,41.91 218.62,41.96 219.08,40.56 219.54,41.88 220.00,42.52 220.45,41.34 220.91,42.03 221.37,40.51 221.83,41.97 222.29,40.92 222.74,42.11 223.20,41.15 223.66,39.95 224.12,41.71 224.58,41.01 225.03,41.29 225.49,42.44 225.95,42.60 226.41,40.03 226.87,41.60 227.32,40.52 227.78,41.37 228.24,40.04 228.70,42.05 229.16,41.15 229.61,40.95 230.07,40.18 230.53,42.57 230.99,41.53 231.45,41.18 231.90,40.82 232.36,52.62 232.82,68.16 233.28,75.55 233.74,85.02 234.19,91.19 234.65,101.18 235.11,107.09 235.57,108.91 236.03,119.64 236.48,125.01 236.94,127.48 237.40,134.28 237.86,140.17 238.32,142.33 238.77,146.61 239.23,152.68 239.69,152.68 240.15,154.95 240.61,154.10 241.06,159.86 241.52,160.01 241.98,159.23 242.44,163.10 242.90,159.64 243.35,159.87 243.81,164.02 244.27,162.53 244.73,165.97 245.19,163.37 245.64,167.93 246.10,169.92 246.56,170.60 247.02,169.72 247.48,172.26 247.93,168.52 248.39,170.10 248.85,170.37 249.31,170.12 249.77,171.03 250.22,168.99 250.68,169.74 251.14,170.98 251.60,171.61 252.06,172.22 252.51,171.48 252.97,171.31 253.43,172.50 253.89,168.81 254.35,171.73 254.80,170.50 255.26,172.57 255.72,170.44 256.18,170.03 256.64,172.51 257.09,168.59 257.55,172.14 258.01,171.71 258.47,169.64 258.93,171.38 259.38,169.03 259.84,171.81 260.30,171.48 260.76,169.83 261.22,169.10 261.67,168.99 262.13,171.60 262.59,170.54 263.05,171.06 263.51,169.90 263.96,171.86 264.42,169.19 264.88,169.74 265.34,172.09 265.80,171.48 266.25,171.39 266.71,168.79 267.17,170.86 267.63,170.16 268.09,168.79 268.54,171.12 269.00,168.72 269.46,171.58 269.92,172.80 270.38,172.41 270.83,169.83 271.29,171.19 271.75,169.21 272.21,170.53 272.67,169.86 273.12,171.31 273.58,170.29 274.04,169.81 274.50,171.21 274.96,170.71 275.41,169.17 275.87,168.80 276.33,171.32 276.79,172.56 277.25,169.18 277.70,170.90 278.16,168.62 278.62,169.52 279.08,171.25 279.54,169.14 279.99,170.46 280.45,169.74 280.91,168.99 281.37,170.32 281.83,168.72 282.28,171.11 282.74,171.20 283.20,170.06 283.66,171.09 284.12,169.76 284.57,170.53 285.03,169.61 285.49,169.25 285.95,170.38 286.41,168.86 286.86,169.44 287.32,169.11 287.78,172.77 288.24,172.79 288.70,170.08 289.15,171.40 289.61,169.04 290.07,171.14 290.53,169.61 290.99,171.78 291.44,170.11 291.90,168.92 292.36,169.09 292.82,171.25 293.28,170.75 293.73,170.52 294.19,171.35 294.65,170.74 295.11,168.64 295.57,169.01 296.02,171.48 296.48,169.87 296.94,168.71 297.40,171.27"/>
<polyline stroke="#21918c" stroke-width="1.4" points="63.36,168.69 63.82,168.91 64.28,168.52 64.73,172.06 65.19,168.36 65.65,168.10 66.11,171.37 66.57,169.64 67.02,172.03 67.48,169.77 67.94,169.30 68.40,169.14 68.86,168.65 69.31,171.14 69.77,171.92 70.23,168.82 70.69,172.32 71.15,171.40 71.60,171.39 72.06,169.01 72.52,170.48 72.98,168.73 73.44,169.48 73.89,168.71 74.35,168.96 74.81,168.55 75.27,171.21 75.73,170.86 76.18,169.66 76.64,169.86 77.10,169.00 77.56,168.86 78.02,171.08 78.47,171.90 78.93,169.16 79.39,169.40 79.85,171.21 80.31,172.18 80.76,172.33 81.22,171.34 81.68,171.22 82.14,171.52 82.60,172.21 83.05,171.68 83.51,170.89 83.97,172.02 84.43,171.52 84.89,170.50 85.34,168.69 85.80,168.58 86.26,170.64 86.72,171.88 87.18,171.24 87.63,169.45 88.09,170.63 88.55,169.91 89.01,169.18 89.47,169.52 89.92,168.64 90.38,172.05 90.84,171.12 91.30,172.28 91.76,170.13 92.21,169.72 92.67,171.31 93.13,172.19 93.59,170.38 94.05,171.69 94.50,171.57 94.96,170.75 95.42,168.26 95.88,170.84 96.34,169.30 96.79,170.79 97.25,170.64 97.71,171.81 98.17,171.62 98.63,169.03 99.08,170.54 99.54,171.19 100.00,168.14 100.46,168.71 100.92,171.52 101.37,170.91 101.83,170.49 102.29,172.42 102.75,171.50 103.21,172.34 103.66,170.33 104.12,173.64 104.58,170.13 105.04,173.59 105.50,173.48 105.95,174.84 106.41,171.72 106.87,172.40 107.33,175.78 107.79,174.26 108.24,175.12 108.70,174.59 109.16,175.96 109.62,173.87 110.08,177.00 110.53,175.00 110.99,177.36 111.45,176.19 111.91,177.27 112.37,177.15 112.82,177.41 113.28,177.28 113.74,179.54 114.20,179.81 114.66,176.81 115.11,179.60 115.57,179.49 116.03,180.16 116.49,179.02 116.95,178.14 117.40,180.41 117.86,180.98 118.32,181.18 118.78,182.54 119.24,182.63 119.69,183.06 120.15,182.47 120.61,180.69 121.07,183.67 121.53,182.72 121.98,184.12 122.44,184.98 122.90,182.95 123.36,185.46 123.82,185.84 124.27,184.32 124.73,186.42 125.19,187.04 125.65,185.56 126.11,188.17 126.56,187.21 127.02,189.31 127.48,189.53 127.94,191.05 128.40,191.97 128.85,191.78 129.31,193.00 129.77,195.57 130.23,195.82 130.69,198.28 131.14,199.73 131.60,201.81 132.06,202.99 132.52,204.69 132.98,206.21 133.43,207.76 133.89,209.52 134.35,211.00 134.81,212.09 135.27,212.63 135.72,212.67 136.18,212.67 136.64,212.67 137.10,212.67 137.56,212.67 138.01,212.67 138.47,212.67 138.93,212.67 139.39,212.67 139.85,212.67 140.30,212.67 140.76,212.67 141.22,212.67 141.68,212.67 142.14,212.67 142.59,212.67 143.05,212.67 143.51,212.67 143.97,212.67 144.43,212.67 144.88,212.67 145.34,212.67"/>
<polyline stroke="#21918c" stroke-width="1.3" points="180.61,40.49 181.07,39.72 181.52,42.18 181.98,40.25 182.44,41.81 182.90,42.48 183.36,41.31 183.81,40.48 184.27,41.78 184.73,39.69 185.19,42.66 185.65,41.83 186.10,41.59 186.56,41.50 187.02,41.73 187.48,42.60 187.94,42.01 188.39,41.84 188.85,40.56 189.31,41.48 189.77,40.40 190.23,41.28 190.68,41.60 191.14,42.17 191.60,41.95 192.06,39.84 192.52,41.24 192.97,41.68 193.43,41.98 193.89,39.92 194.35,40.46 194.81,40.49 195.26,40.15 195.72,41.91 196.18,40.38 196.64,42.44 197.10,40.58 197.55,41.65 198.01,40.59 198.47,41.95 198.93,41.56 199.39,40.57 199.84,39.72 200.30,41.60 200.76,42.13 201.22,42.27 201.68,40.56 202.13,39.87 202.59,42.61 203.05,41.58 203.51,42.13 203.97,39.68 204.42,42.25 204.88,42.45 205.34,40.26 205.80,39.54 206.26,40.24 206.71,42.30 207.17,41.39 207.63,41.04 208.09,39.85 208.55,40.31 209.00,42.47 209.46,41.25 209.92,40.23 210.38,40.96 210.84,40.58 211.29,39.64 211.75,39.60 212.21,40.05 212.67,40.87 213.13,41.70 213.58,42.16 214.04,42.14 214.50,40.66 214.96,40.25 215.42,39.98 215.87,39.80 216.33,41.76 216.79,41.62 217.25,42.05 217.71,40.96 218.16,39.70 218.62,40.29 219.08,41.30 219.54,42.17 220.00,40.03 220.45,39.86 220.91,40.26 221.37,41.75 221.83,41.44 222.29,40.84 222.74,39.79 223.20,41.90 223.66,41.35 224.12,42.47 224.58,42.65 225.03,41.90 225.49,40.13 225.95,40.55 226.41,41.17 226.87,41.38 227.32,41.83 227.78,40.27 228.24,41.14 228.70,42.44 229.16,40.70 229.61,39.56 230.07,42.43 230.53,47.24 230.99,69.02 231.45,79.83 231.90,89.38 232.36,95.44 232.82,103.84 233.28,108.51 233.74,115.95 234.19,121.73 234.65,129.51 235.11,134.47 235.57,134.28 236.03,138.84 236.48,146.17 236.94,147.22 237.40,150.51 237.86,155.49 238.32,157.81 238.77,156.24 239.23,156.47 239.69,157.63 240.15,162.09 240.61,164.56 241.06,164.12 241.52,166.23 241.98,162.53 242.44,166.90 242.90,165.43 243.35,169.37 243.81,167.13 244.27,170.03 244.73,168.96 245.19,170.06 245.64,169.33 246.10,172.37 246.56,172.30 247.02,171.12 247.48,168.84 247.93,168.70 248.39,169.57 248.85,170.06 249.31,172.47 249.77,168.61 250.22,169.79 250.68,169.98 251.14,168.99 251.60,171.65 252.06,169.97 252.51,169.69 252.97,169.37 253.43,172.27 253.89,169.49 254.35,168.73 254.80,169.93 255.26,171.94 255.72,168.66 256.18,172.24 256.64,171.67 257.09,168.94 257.55,170.10 258.01,171.21 258.47,169.16 258.93,169.85 259.38,172.17 259.84,171.67 260.30,169.13 260.76,169.13 261.22,172.36 261.67,170.40 262.13,169.56 262.59,171.26 263.05,172.41 263.51,170.86 263.96,168.58 264.42,169.48 264.88,171.75 265.34,168.98 265.80,169.76 266.25,171.41 266.71,171.51 267.17,171.91 267.63,170.91 268.09,171.11 268.54,171.43 269.00,168.85 269.46,169.35 269.92,170.52 270.38,168.46 270.83,169.73 271.29,168.51 271.75,169.07 272.21,169.90 272.67,169.64 273.12,169.29 273.58,169.36 274.04,168.85 274.50,171.19 274.96,171.09 275.41,171.60 275.87,168.64 276.33,168.72 276.79,170.75 277.25,170.93 277.70,172.10 278.16,168.41 278.62,169.74 279.08,168.46 279.54,169.91 279.99,170.43 280.45,169.40 280.91,168.79 281.37,168.98 281.83,171.17 282.28,170.46 282.74,168.54 283.20,170.46 283.66,169.17 284.12,170.38 284.57,169.03 285.03,172.39 285.49,172.68 285.95,172.29 286.41,170.77 286.86,171.07 287.32,168.48 287.78,168.31 288.24,172.10 288.70,169.03 289.15,170.45 289.61,169.00 290.07,171.07 290.53,169.30 290.99,172.67 291.44,170.63 291.90,171.23 292.36,171.58 292.82,171.37 293.28,170.85 293.73,170.51 294.19,170.38 294.65,169.46 295.11,169.06 295.57,168.47 296.02,169.75 296.48,171.56 296.94,170.15 297.40,170.76"/>
<polyline stroke="#20a486" stroke-width="1.4" points="63.36,171.03 63.82,170.60 64.28,171.06 64.73,169.68 65.19,171.78 65.65,169.66 66.11,170.24 66.57,172.05 67.02,170.85 67.48,167.75 67.94,169.50 68.40,171.79 68.86,169.51 69.31,168.94 69.77,171.48 70.23,170.28 70.69,171.13 71.15,169.66 71.60,168.42 72.06,171.01 72.52,171.46 72.98,171.46 73.44,169.34 73.89,171.77 74.35,169.73 74.81,168.47 75.27,168.67 75.73,169.09 76.18,172.03 76.64,170.16 77.10,170.99 77.56,169.78 78.02,171.40 78.47,171.48 78.93,167.84 79.39,168.16 79.85,171.64 80.31,168.39 80.76,171.78 81.22,170.57 81.68,167.65 82.14,167.89 82.60,170.00 83.05,168.95 83.51,170.37 83.97,168.30 84.43,170.67 84.89,171.16 85.34,171.43 85.80,169.27 86.26,169.59 86.72,168.06 87.18,171.42 87.63,168.50 88.09,167.88 88.55,168.75 89.01,171.57 89.47,171.39 89.92,171.69 90.38,170.59 90.84,168.70 91.30,171.43 91.76,170.08 92.21,171.88 92.67,169.06 93.13,171.64 93.59,168.55 94.05,169.35 94.50,171.23 94.96,168.97 95.42,170.52 95.88,169.75 96.34,169.60 96.79,170.87 97.25,170.22 97.71,168.58 98.17,168.23 98.63,168.30 99.08,169.55 99.54,168.19 100.00,171.45 100.46,167.70 100.92,171.88 101.37,168.07 101.83,168.55 102.29,170.34 102.75,168.56 103.21,167.81 103.66,171.35 104.12,169.19 104.58,172.06 105.04,169.12 105.50,171.80 105.95,169.10 106.41,171.96 106.87,170.28 107.33,168.22 107.79,170.71 108.24,167.76 108.70,169.98 109.16,171.27 109.62,167.92 110.08,171.42 110.53,169.52 110.99,168.04 111.45,168.13 111.91,169.94 112.37,171.56 112.82,170.42 113.28,171.47 113.74,171.52 114.20,171.67 114.66,172.34 115.11,173.23 115.57,170.36 116.03,173.72 116.49,171.54 116.95,172.63 117.40,171.66 117.86,172.19 118.32,172.84 118.78,171.85 119.24,172.96 119.69,171.95 120.15,173.59 120.61,172.83 121.07,173.34 121.53,174.45 121.98,176.42 122.44,176.36 122.90,178.45 123.36,176.66 123.82,177.58 124.27,177.64 124.73,180.99 125.19,181.71 125.65,180.95 126.11,181.69 126.56,184.71 127.02,185.73 127.48,185.74 127.94,186.54 128.40,188.13 128.85,188.81 129.31,189.34 129.77,190.63 130.23,191.17 130.69,192.35 131.14,192.58 131.60,192.88 132.06,194.25 132.52,195.64 132.98,197.46 133.43,199.76 133.89,201.93 134.35,203.78 134.81,205.05 135.27,206.90 135.72,208.90 136.18,210.68 136.64,212.05 137.10,212.66 137.56,212.67 138.01,212.67 138.47,212.67 138.93,212.67 139.39,212.67 139.85,212.67 140.30,212.67 140.76,212.67 141.22,212.67 141.68,212.67 142.14,212.67 142.59,212.67 143.05,212.67 143.51,212.67 143.97,212.67 144.43,212.67 144.88,212.67 145.34,212.67"/>
<polyline stroke="#20a486" stroke-width="1.3" points="180.61,40.99 181.07,39.82 181.52,41.47 181.98,41.16 182.44,41.37 182.90,42.31 183.36,41.76 183.81,39.80 184.27,39.72 184.73,41.87 185.19,39.78 185.65,42.61 186.10,40.41 186.56,42.58 187.02,41.33 187.48,41.37 187.94,41.30 188.39,39.72 188.85,41.56 189.31,42.61 189.77,42.32 190.23,40.32 190.68,42.26 191.14,42.48 191.60,42.05 192.06,39.60 192.52,41.27 192.97,42.20 193.43,40.60 193.89,41.48 194.35,40.93 194.81,39.55 195.26,40.48 195.72,40.99 196.18,39.54 196.64,41.08 197.10,41.25 197.55,40.00 198.01,39.67 198.47,40.41 198.93,41.52 199.39,41.40 199.84,42.63 200.30,41.91 200.76,40.23 201.22,41.13 201.68,39.98 202.13,40.57 202.59,40.89 203.05,40.14 203.51,41.11 203.97,40.58 204.42,41.13 204.88,41.56 205.34,40.27 205.80,42.44 206.26,39.61 206.71,39.66 207.17,40.07 207.63,41.20 208.09,41.26 208.55,41.40 209.00,41.23 209.46,41.97 209.92,40.16 210.38,39.91 210.84,41.10 211.29,39.99 211.75,41.75 212.21,39.97 212.67,39.62 213.13,40.57 213.58,39.65 214.04,40.39 214.50,40.49 214.96,41.18 215.42,42.48 215.87,42.27 216.33,40.07 216.79,42.09 217.25,40.52 217.71,42.16 218.16,40.30 218.62,39.67 219.08,40.73 219.54,42.54 220.00,40.36 220.45,41.17 220.91,39.95 221.37,42.20 221.83,41.78 222.29,39.79 222.74,40.04 223.20,39.82 223.66,41.03 224.12,40.55 224.58,39.74 225.03,40.60 225.49,42.39 225.95,42.18 226.41,42.65 226.87,42.31 227.32,42.58 227.78,41.46 228.24,40.73 228.70,39.97 229.16,41.38 229.61,55.54 230.07,72.50 230.53,83.60 230.99,93.39 231.45,104.45 231.90,111.82 232.36,120.09 232.82,123.52 233.28,131.14 233.74,137.88 234.19,143.47 234.65,143.35 235.11,150.36 235.57,150.38 236.03,157.12 236.48,159.82 236.94,158.60 237.40,158.85 237.86,163.92 238.32,161.25 238.77,163.58 239.23,162.95 239.69,163.84 240.15,167.49 240.61,166.22 241.06,170.66 241.52,170.13 241.98,170.39 242.44,171.26 242.90,170.21 243.35,169.02 243.81,171.87 244.27,170.22 244.73,170.02 245.19,171.48 245.64,169.51 246.10,171.23 246.56,169.82 247.02,169.82 247.48,169.03 247.93,168.21 248.39,168.25 248.85,170.13 249.31,171.18 249.77,171.27 250.22,168.87 250.68,168.98 251.14,168.83 251.60,168.66 252.06,169.85 252.51,168.38 252.97,169.44 253.43,169.55 253.89,168.64 254.35,169.46 254.80,168.95 255.26,168.23 255.72,170.60 256.18,169.02 256.64,171.03 257.09,170.19 257.55,168.48 258.01,168.04 258.47,168.15 258.93,168.99 259.38,168.59 259.84,168.43 260.30,169.65 260.76,171.27 261.22,172.27 261.67,168.98 262.13,168.98 262.59,169.11 263.05,169.78 263.51,169.44 263.96,169.17 264.42,169.99 264.88,169.43 265.34,171.35 265.80,169.98 266.25,169.57 266.71,169.83 267.17,171.21 267.63,171.79 268.09,169.45 268.54,171.85 269.00,168.83 269.46,171.54 269.92,168.93 270.38,170.77 270.83,168.36 271.29,171.35 271.75,171.65 272.21,169.36 272.67,168.92 273.12,170.80 273.58,170.26 274.04,169.42 274.50,171.04 274.96,170.63 275.41,169.84 275.87,171.01 276.33,171.70 276.79,168.33 277.25,171.80 277.70,167.98 278.16,168.61 278.62,170.37 279.08,168.54 279.54,172.06 279.99,169.86 280.45,170.78 280.91,171.02 281.37,168.39 281.83,172.18 282.28,168.53 282.74,172.00 283.20,169.35 283.66,171.08 284.12,170.02 284.57,168.25 285.03,168.82 285.49,171.91 285.95,171.00 286.41,170.19 286.86,169.18 287.32,172.32 287.78,168.52 288.24,168.62 288.70,168.12 289.15,171.45 289.61,171.40 290.07,168.66 290.53,170.07 290.99,171.26 291.44,172.27 291.90,171.39 292.36,169.36 292.82,169.10 293.28,170.78 293.73,168.29 294.19,170.09 294.65,170.06 295.11,170.60 295.57,170.56 296.02,170.76 296.48,168.70 296.94,170.40 297.40,171.32"/>
<polyline stroke="#35b779" stroke-width="1.4" points="63.36,169.77 63.82,167.57 64.28,168.86 64.73,171.25 65.19,169.84 65.65,169.63 66.11,171.66 66.57,167.41 67.02,167.61 67.48,171.27 67.94,169.24 68.40,170.32 68.86,170.77 69.31,170.49 69.77,171.48 70.23,168.63 70.69,170.08 71.15,168.58 71.60,168.06 72.06,169.15 72.52,170.18 72.98,171.10 73.44,168.80 73.89,168.69 74.35,168.22 74.81,171.11 75.27,171.52 75.73,167.78 76.18,169.00 76.64,171.30 77.10,168.54 77.56,171.47 78.02,168.89 78.47,169.23 78.93,168.51 79.39,171.30 79.85,167.64 80.31,167.50 80.76,167.30 81.22,168.28 81.68,170.33 82.14,167.33 82.60,168.97 83.05,168.50 83.51,168.75 83.97,170.80 84.43,167.89 84.89,168.82 85.34,170.73 85.80,170.03 86.26,171.08 86.72,169.78 87.18,167.28 87.63,170.00 88.09,169.95 88.55,168.12 89.01,171.35 89.47,171.19 89.92,168.38 90.38,171.14 90.84,168.98 91.30,168.06 91.76,169.20 92.21,171.37 92.67,170.80 93.13,169.30 93.59,167.44 94.05,168.79 94.50,168.59 94.96,169.05 95.42,170.26 95.88,169.00 96.34,171.68 96.79,169.86 97.25,168.08 97.71,170.81 98.17,168.81 98.63,168.49 99.08,171.02 99.54,167.87 100.00,170.63 100.46,167.40 100.92,170.18 101.37,168.98 101.83,167.46 102.29,168.04 102.75,169.54 103.21,170.85 103.66,168.96 104.12,169.08 104.58,171.44 105.04,170.01 105.50,167.59 105.95,169.36 106.41,170.91 106.87,168.83 107.33,169.69 107.79,167.62 108.24,169.52 108.70,171.61 109.16,171.00 109.62,170.94 110.08,167.45 110.53,170.11 110.99,170.16 111.45,167.34 111.91,170.80 112.37,168.93 112.82,167.47 113.28,167.65 113.74,171.04 114.20,169.70 114.66,170.74 115.11,168.82 115.57,170.94 116.03,171.36 116.49,171.06 116.95,171.82 117.40,169.38 117.86,171.45 118.32,171.09 118.78,171.80 119.24,171.52 119.69,172.03 120.15,172.00 120.61,170.67 121.07,173.17 121.53,171.26 121.98,172.99 122.44,174.39 122.90,174.64 123.36,171.84 123.82,175.74 124.27,175.23 124.73,173.41 125.19,177.02 125.65,177.09 126.11,177.50 126.56,176.07 127.02,179.40 127.48,177.17 127.94,180.80 128.40,180.08 128.85,180.28 129.31,181.92 129.77,183.06 130.23,184.26 130.69,185.77 131.14,184.67 131.60,187.27 132.06,187.65 132.52,188.84 132.98,189.06 133.43,191.88 133.89,193.31 134.35,193.22 134.81,195.51 135.27,197.22 135.72,199.71 136.18,202.23 136.64,204.82 137.10,207.32 137.56,210.21 138.01,212.12 138.47,212.67 138.93,212.67 139.39,212.67 139.85,212.67 140.30,212.67 140.76,212.67 141.22,212.67 141.68,212.67 142.14,212.67 142.59,212.67 143.05,212.67 143.51,212.67 143.97,212.67 144.43,212.67 144.88,212.67 145.34,212.67"/>
<polyline stroke="#35b779" stroke-width="1.3" points="180.61,40.51 181.07,40.79 181.52,40.09 181.98,39.58 182.44,41.92 182.90,39.73 183.36,40.26 183.81,40.90 184.27,39.62 184.73,41.06 185.19,42.57 185.65,42.27 186.10,41.68 186.56,40.48 187.02,40.89 187.48,40.53 187.94,42.60 188.39,41.89 188.85,40.93 189.31,40.62 189.77,41.31 190.23,41.98 190.68,41.69 191.14,40.28 191.60,40.42 192.06,41.89 192.52,39.69 192.97,42.53 193.43,41.93 193.89,41.29 194.35,40.15 194.81,40.89 195.26,40.55 195.72,39.69 196.18,41.51 196.64,42.10 197.10,41.38 197.55,40.90 198.01,42.24 198.47,42.54 198.93,40.39 199.39,39.57 199.84,39.75 200.30,41.49 200.76,41.24 201.22,40.07 201.68,39.58 202.13,41.55 202.59,39.69 203.05,40.48 203.51,42.20 203.97,41.25 204.42,42.65 204.88,41.39 205.34,41.03 205.80,40.17 206.26,41.63 206.71,40.63 207.17,40.59 207.63,41.02 208.09,40.74 208.55,41.22 209.00,40.75 209.46,41.22 209.92,39.81 210.38,42.31 210.84,39.96 211.29,40.33 211.75,42.63 212.21,40.41 212.67,41.53 213.13,41.08 213.58,41.04 214.04,40.36 214.50,41.14 214.96,40.67 215.42,41.98 215.87,42.44 216.33,40.57 216.79,39.57 217.25,42.42 217.71,39.81 218.16,41.46 218.62,40.62 219.08,41.83 219.54,40.50 220.00,41.30 220.45,40.18 220.91,41.80 221.37,41.62 221.83,40.71 222.29,42.33 222.74,39.61 223.20,40.76 223.66,39.62 224.12,42.11 224.58,40.44 225.03,42.03 225.49,42.40 225.95,41.28 226.41,41.19 226.87,40.92 227.32,41.20 227.78,42.05 228.24,40.53 228.70,49.26 229.16,71.71 229.61,85.36 230.07,96.66 230.53,107.97 230.99,116.37 231.45,127.27 231.90,134.85 232.36,137.21 232.82,146.89 233.28,150.31 233.74,151.33 234.19,158.83 234.65,158.06 235.11,162.06 235.57,161.38 236.03,161.56 236.48,162.63 236.94,163.96 237.40,166.45 237.86,167.52 238.32,170.26 238.77,171.22 239.23,168.67 239.69,171.77 240.15,167.85 240.61,171.18 241.06,168.80 241.52,170.01 241.98,169.27 242.44,168.63 242.90,170.69 243.35,168.33 243.81,168.64 244.27,169.42 244.73,169.45 245.19,170.29 245.64,167.68 246.10,170.28 246.56,170.93 247.02,169.52 247.48,167.90 247.93,167.88 248.39,169.43 248.85,170.26 249.31,168.67 249.77,169.51 250.22,168.34 250.68,168.29 251.14,168.87 251.60,167.67 252.06,169.11 252.51,167.66 252.97,169.10 253.43,171.03 253.89,169.21 254.35,168.58 254.80,170.12 255.26,171.26 255.72,170.44 256.18,168.52 256.64,171.08 257.09,171.96 257.55,168.09 258.01,167.67 258.47,168.13 258.93,168.43 259.38,168.75 259.84,169.55 260.30,169.10 260.76,168.68 261.22,170.54 261.67,171.09 262.13,168.91 262.59,169.32 263.05,167.59 263.51,170.16 263.96,170.16 264.42,171.46 264.88,171.94 265.34,171.39 265.80,169.37 266.25,167.71 266.71,171.50 267.17,171.29 267.63,168.97 268.09,170.66 268.54,171.80 269.00,168.05 269.46,171.34 269.92,170.06 270.38,168.64 270.83,168.53 271.29,167.74 271.75,169.36 272.21,171.35 272.67,171.65 273.12,169.14 273.58,169.62 274.04,170.90 274.50,171.27 274.96,170.45 275.41,170.72 275.87,170.43 276.33,170.44 276.79,168.65 277.25,169.95 277.70,168.23 278.16,169.77 278.62,170.71 279.08,167.88 279.54,169.10 279.99,168.25 280.45,170.97 280.91,167.67 281.37,169.17 281.83,170.34 282.28,170.89 282.74,171.57 283.20,171.86 283.66,171.13 284.12,170.63 284.57,169.64 285.03,170.23 285.49,171.81 285.95,171.36 286.41,171.93 286.86,171.83 287.32,170.68 287.78,169.16 288.24,171.32 288.70,168.07 289.15,167.60 289.61,169.26 290.07,171.79 290.53,171.20 290.99,169.73 291.44,167.84 291.90,167.63 292.36,168.72 292.82,168.04 293.28,171.57 293.73,169.74 294.19,169.87 294.65,171.04 295.11,169.49 295.57,169.50 296.02,167.67 296.48,171.71 296.94,170.67 297.40,171.24"/>
<polyline stroke="#5ec962" stroke-width="1.4" points="63.36,170.36 63.82,169.93 64.28,169.70 64.73,167.03 65.19,169.88 65.65,169.18 66.11,170.62 66.57,170.37 67.02,170.39 67.48,168.79 67.94,170.01 68.40,170.11 68.86,169.00 69.31,171.30 69.77,167.46 70.23,171.14 70.69,169.51 71.15,166.89 71.60,170.61 72.06,171.17 72.52,169.17 72.98,168.52 73.44,169.64 73.89,170.38 74.35,168.24 74.81,168.70 75.27,169.80 75.73,168.58 76.18,167.57 76.64,169.04 77.10,169.62 77.56,168.58 78.02,169.08 78.47,170.92 78.93,167.28 79.39,170.81 79.85,168.01 80.31,169.41 80.76,167.82 81.22,169.00 81.68,167.65 82.14,169.24 82.60,170.25 83.05,167.88 83.51,167.62 83.97,169.10 84.43,167.16 84.89,168.17 85.34,167.15 85.80,170.49 86.26,167.10 86.72,167.89 87.18,167.10 87.63,169.79 88.09,168.85 88.55,167.32 89.01,168.33 89.47,170.06 89.92,170.06 90.38,167.09 90.84,168.33 91.30,171.13 91.76,170.20 92.21,168.85 92.67,170.51 93.13,169.26 93.59,168.35 94.05,170.99 94.50,170.22 94.96,167.38 95.42,171.19 95.88,170.87 96.34,167.66 96.79,168.31 97.25,169.24 97.71,167.48 98.17,170.43 98.63,171.35 99.08,167.69 99.54,168.48 100.00,169.85 100.46,168.75 100.92,171.00 101.37,169.96 101.83,168.80 102.29,167.55 102.75,169.94 103.21,171.10 103.66,170.97 104.12,169.98 104.58,168.54 105.04,168.18 105.50,168.22 105.95,167.41 106.41,168.28 106.87,168.33 107.33,168.68 107.79,168.35 108.24,168.06 108.70,166.95 109.16,170.56 109.62,168.46 110.08,170.81 110.53,170.44 110.99,167.17 111.45,169.54 111.91,168.80 112.37,170.41 112.82,169.06 113.28,171.26 113.74,168.74 114.20,167.05 114.66,168.26 115.11,168.36 115.57,168.86 116.03,169.92 116.49,167.87 116.95,169.61 117.40,169.85 117.86,168.90 118.32,167.00 118.78,168.13 119.24,168.47 119.69,171.01 120.15,168.04 120.61,169.87 121.07,169.06 121.53,169.48 121.98,168.60 122.44,172.08 122.90,171.91 123.36,171.25 123.82,171.78 124.27,169.90 124.73,172.61 125.19,172.98 125.65,171.40 126.11,173.70 126.56,170.97 127.02,173.32 127.48,173.88 127.94,173.17 128.40,172.22 128.85,175.59 129.31,176.46 129.77,176.60 130.23,175.82 130.69,176.08 131.14,179.78 131.60,181.24 132.06,181.48 132.52,182.72 132.98,182.77 133.43,184.39 133.89,185.65 134.35,188.08 134.81,189.54 135.27,190.05 135.72,193.79 136.18,195.73 136.64,197.91 137.10,199.56 137.56,203.04 138.01,205.83 138.47,208.97 138.93,211.86 139.39,212.67 139.85,212.67 140.30,212.67 140.76,212.67 141.22,212.67 141.68,212.67 142.14,212.67 142.59,212.67 143.05,212.67 143.51,212.67 143.97,212.67 144.43,212.67 144.88,212.67 145.34,212.67"/>
<polyline stroke="#5ec962" stroke-width="1.3" points="180.61,40.48 181.07,41.45 181.52,39.56 181.98,42.33 182.44,41.57 182.90,39.90 183.36,39.63 183.81,40.18 184.27,42.08 184.73,40.89 185.19,42.44 185.65,42.46 186.10,39.96 186.56,42.66 187.02,42.36 187.48,42.33 187.94,40.44 188.39,40.70 188.85,41.99 189.31,41.38 189.77,39.69 190.23,42.00 190.68,42.45 191.14,40.64 191.60,42.32 192.06,40.92 192.52,41.87 192.97,42.56 193.43,40.60 193.89,40.31 194.35,41.68 194.81,42.17 195.26,39.61 195.72,41.90 196.18,41.89 196.64,41.52 197.10,41.91 197.55,41.89 198.01,39.77 198.47,42.41 198.93,40.05 199.39,40.99 199.84,42.55 200.30,42.19 200.76,40.61 201.22,40.91 201.68,41.91 202.13,41.75 202.59,39.76 203.05,40.36 203.51,40.59 203.97,39.77 204.42,41.94 204.88,41.63 205.34,40.04 205.80,41.29 206.26,41.27 206.71,40.13 207.17,39.54 207.63,39.89 208.09,40.25 208.55,41.27 209.00,40.45 209.46,41.96 209.92,41.87 210.38,42.02 210.84,40.53 211.29,39.70 211.75,40.30 212.21,41.83 212.67,40.60 213.13,41.57 213.58,40.09 214.04,41.14 214.50,41.88 214.96,41.75 215.42,42.40 215.87,41.53 216.33,41.60 216.79,41.23 217.25,40.61 217.71,39.76 218.16,40.11 218.62,40.87 219.08,41.53 219.54,42.13 220.00,40.81 220.45,42.46 220.91,42.50 221.37,40.65 221.83,42.15 222.29,40.01 222.74,40.57 223.20,41.02 223.66,39.73 224.12,42.25 224.58,41.69 225.03,41.07 225.49,39.64 225.95,42.42 226.41,40.78 226.87,39.79 227.32,42.21 227.78,50.55 228.24,73.27 228.70,92.02 229.16,107.15 229.61,115.69 230.07,125.21 230.53,137.50 230.99,142.82 231.45,147.15 231.90,154.65 232.36,156.80 232.82,157.55 233.28,159.50 233.74,164.25 234.19,164.64 234.65,165.93 235.11,165.09 235.57,168.97 236.03,166.09 236.48,170.86 236.94,169.29 237.40,168.51 237.86,167.40 238.32,168.91 238.77,167.82 239.23,169.28 239.69,170.68 240.15,169.78 240.61,168.94 241.06,169.28 241.52,168.15 241.98,169.24 242.44,169.94 242.90,169.35 243.35,169.33 243.81,171.62 244.27,170.19 244.73,169.09 245.19,168.46 245.64,169.75 246.10,168.31 246.56,169.40 247.02,170.01 247.48,170.58 247.93,168.08 248.39,167.52 248.85,168.39 249.31,170.68 249.77,168.49 250.22,169.40 250.68,167.51 251.14,171.64 251.60,168.19 252.06,169.57 252.51,167.82 252.97,168.94 253.43,171.63 253.89,168.56 254.35,169.27 254.80,170.59 255.26,171.12 255.72,169.88 256.18,169.15 256.64,169.52 257.09,171.59 257.55,171.00 258.01,168.61 258.47,169.21 258.93,168.33 259.38,169.80 259.84,170.51 260.30,168.08 260.76,170.69 261.22,171.40 261.67,170.01 262.13,169.64 262.59,170.73 263.05,167.37 263.51,170.63 263.96,171.12 264.42,168.69 264.88,171.02 265.34,170.41 265.80,169.81 266.25,170.44 266.71,168.73 267.17,171.04 267.63,168.77 268.09,171.15 268.54,169.06 269.00,167.27 269.46,168.13 269.92,167.41 270.38,169.21 270.83,170.96 271.29,170.00 271.75,168.18 272.21,171.08 272.67,168.68 273.12,170.22 273.58,167.54 274.04,170.09 274.50,170.22 274.96,170.44 275.41,169.24 275.87,167.38 276.33,169.24 276.79,168.33 277.25,169.33 277.70,171.30 278.16,169.03 278.62,169.00 279.08,168.99 279.54,170.33 279.99,170.47 280.45,170.19 280.91,171.53 281.37,170.94 281.83,170.38 282.28,169.36 282.74,167.57 283.20,168.52 283.66,169.35 284.12,168.45 284.57,169.67 285.03,171.46 285.49,168.58 285.95,168.50 286.41,168.72 286.86,167.83 287.32,168.15 287.78,167.94 288.24,171.46 288.70,167.17 289.15,169.02 289.61,169.00 290.07,168.91 290.53,170.45 290.99,170.31 291.44,167.72 291.90,168.97 292.36,167.35 292.82,170.73 293.28,169.04 293.73,168.97 294.19,171.50 294.65,168.85 295.11,169.94 295.57,169.73 296.02,170.83 296.48,168.99 296.94,168.64 297.40,167.66"/>
<polyline stroke="#90d743" stroke-width="1.4" points="63.36,167.17 63.82,166.54 64.28,166.56 64.73,167.82 65.19,169.74 65.65,168.55 66.11,170.64 66.57,168.43 67.02,169.62 67.48,168.57 67.94,167.59 68.40,170.74 68.86,167.02 69.31,170.85 69.77,168.78 70.23,170.02 70.69,170.84 71.15,168.83 71.60,169.82 72.06,170.65 72.52,167.25 72.98,169.90 73.44,166.73 73.89,168.24 74.35,169.40 74.81,170.74 75.27,167.11 75.73,170.52 76.18,167.47 76.64,168.60 77.10,168.94 77.56,170.65 78.02,169.10 78.47,170.94 78.93,167.53 79.39,167.79 79.85,170.40 80.31,168.69 80.76,170.21 81.22,167.77 81.68,170.16 82.14,170.23 82.60,169.72 83.05,166.58 83.51,167.28 83.97,169.18 84.43,167.39 84.89,169.37 85.34,170.16 85.80,166.92 86.26,170.85 86.72,167.40 87.18,166.63 87.63,170.63 88.09,167.09 88.55,167.45 89.01,170.83 89.47,168.99 89.92,169.83 90.38,169.26 90.84,169.27 91.30,169.22 91.76,170.97 92.21,169.78 92.67,169.69 93.13,168.05 93.59,167.84 94.05,167.59 94.50,168.11 94.96,166.93 95.42,168.48 95.88,169.59 96.34,170.84 96.79,167.70 97.25,168.45 97.71,170.27 98.17,168.68 98.63,166.70 99.08,168.25 99.54,169.61 100.00,167.33 100.46,169.22 100.92,170.95 101.37,170.65 101.83,166.63 102.29,170.59 102.75,167.44 103.21,170.88 103.66,169.08 104.12,169.73 104.58,169.45 105.04,170.60 105.50,169.18 105.95,167.55 106.41,168.62 106.87,170.42 107.33,167.34 107.79,167.04 108.24,168.93 108.70,169.38 109.16,170.94 109.62,170.70 110.08,169.30 110.53,170.50 110.99,166.59 111.45,168.08 111.91,169.59 112.37,168.35 112.82,170.25 113.28,166.83 113.74,168.73 114.20,167.82 114.66,170.19 115.11,168.85 115.57,167.76 116.03,169.25 116.49,170.72 116.95,168.88 117.40,167.25 117.86,168.91 118.32,166.54 118.78,168.46 119.24,166.99 119.69,170.87 120.15,168.13 120.61,168.69 121.07,169.38 121.53,166.90 121.98,170.60 122.44,168.81 122.90,169.66 123.36,166.73 123.82,167.62 124.27,170.35 124.73,170.78 125.19,171.36 125.65,170.78 126.11,167.55 126.56,167.96 127.02,168.45 127.48,170.40 127.94,170.25 128.40,170.13 128.85,169.46 129.31,173.35 129.77,173.01 130.23,171.76 130.69,174.06 131.14,171.27 131.60,175.47 132.06,172.33 132.52,176.03 132.98,176.85 133.43,176.83 133.89,177.09 134.35,177.32 134.81,180.80 135.27,181.41 135.72,183.58 136.18,185.79 136.64,190.09 137.10,192.71 137.56,196.54 138.01,199.21 138.47,202.85 138.93,206.49 139.39,210.21 139.85,212.67 140.30,212.67 140.76,212.67 141.22,212.67 141.68,212.67 142.14,212.67 142.59,212.67 143.05,212.67 143.51,212.67 143.97,212.67 144.43,212.67 144.88,212.67 145.34,212.67"/>
<polyline stroke="#90d743" stroke-width="1.3" points="180.61,42.38 181.07,41.23 181.52,40.82 181.98,40.47 182.44,41.98 182.90,42.37 183.36,39.66 183.81,40.01 184.27,42.10 184.73,40.09 185.19,40.12 185.65,42.09 186.10,40.15 186.56,41.47 187.02,41.62 187.48,42.16 187.94,40.81 188.39,40.75 188.85,41.06 189.31,42.35 189.77,40.17 190.23,41.67 190.68,41.84 191.14,40.66 191.60,42.08 192.06,39.82 192.52,40.64 192.97,40.19 193.43,41.60 193.89,41.32 194.35,41.88 194.81,41.88 195.26,41.36 195.72,40.20 196.18,41.09 196.64,40.06 197.10,42.31 197.55,41.76 198.01,42.55 198.47,39.81 198.93,42.47 199.39,40.97 199.84,40.56 200.30,42.02 200.76,39.60 201.22,39.60 201.68,41.92 202.13,42.23 202.59,40.63 203.05,41.05 203.51,40.77 203.97,40.73 204.42,39.67 204.88,40.26 205.34,41.68 205.80,40.33 206.26,41.26 206.71,39.61 207.17,41.17 207.63,42.63 208.09,39.79 208.55,41.80 209.00,40.09 209.46,40.75 209.92,40.33 210.38,40.35 210.84,39.83 211.29,40.06 211.75,40.64 212.21,41.64 212.67,41.12 213.13,41.79 213.58,41.61 214.04,41.22 214.50,41.34 214.96,41.76 215.42,41.71 215.87,41.69 216.33,42.06 216.79,40.84 217.25,42.37 217.71,41.89 218.16,42.13 218.62,40.45 219.08,41.79 219.54,42.35 220.00,40.09 220.45,41.29 220.91,40.15 221.37,41.66 221.83,41.58 222.29,40.91 222.74,42.44 223.20,39.61 223.66,42.25 224.12,39.81 224.58,40.60 225.03,40.27 225.49,42.01 225.95,39.87 226.41,40.99 226.87,43.89 227.32,73.27 227.78,94.41 228.24,114.31 228.70,127.58 229.16,138.93 229.61,145.05 230.07,154.24 230.53,154.61 230.99,160.65 231.45,164.49 231.90,164.23 232.36,162.16 232.82,166.81 233.28,167.94 233.74,166.41 234.19,167.77 234.65,169.69 235.11,170.58 235.57,169.56 236.03,169.64 236.48,167.27 236.94,168.88 237.40,167.14 237.86,166.86 238.32,167.39 238.77,169.49 239.23,169.56 239.69,168.85 240.15,168.25 240.61,167.48 241.06,167.62 241.52,169.91 241.98,167.99 242.44,169.62 242.90,167.81 243.35,171.27 243.81,167.48 244.27,168.16 244.73,170.66 245.19,170.19 245.64,169.92 246.10,169.00 246.56,167.22 247.02,166.93 247.48,168.60 247.93,170.83 248.39,166.89 248.85,166.97 249.31,170.93 249.77,168.31 250.22,168.31 250.68,168.33 251.14,168.04 251.60,171.31 252.06,169.93 252.51,169.80 252.97,168.39 253.43,170.90 253.89,170.08 254.35,170.53 254.80,171.12 255.26,169.18 255.72,170.40 256.18,169.14 256.64,170.39 257.09,167.74 257.55,170.82 258.01,167.83 258.47,168.35 258.93,170.61 259.38,169.61 259.84,169.60 260.30,169.27 260.76,168.27 261.22,171.26 261.67,170.58 262.13,168.16 262.59,170.91 263.05,167.50 263.51,169.65 263.96,171.17 264.42,167.85 264.88,170.22 265.34,166.80 265.80,167.15 266.25,167.31 266.71,167.32 267.17,171.00 267.63,171.21 268.09,169.51 268.54,169.42 269.00,169.48 269.46,168.62 269.92,167.77 270.38,167.75 270.83,167.11 271.29,168.26 271.75,167.35 272.21,170.92 272.67,171.21 273.12,169.28 273.58,167.33 274.04,169.58 274.50,170.83 274.96,170.76 275.41,170.29 275.87,167.41 276.33,169.81 276.79,167.43 277.25,167.06 277.70,167.82 278.16,167.14 278.62,170.17 279.08,170.45 279.54,170.23 279.99,171.25 280.45,167.11 280.91,170.40 281.37,168.47 281.83,170.04 282.28,168.88 282.74,169.35 283.20,168.06 283.66,170.42 284.12,170.02 284.57,170.70 285.03,169.86 285.49,167.55 285.95,166.96 286.41,171.26 286.86,167.50 287.32,168.00 287.78,170.97 288.24,170.60 288.70,167.41 289.15,170.45 289.61,167.21 290.07,168.88 290.53,166.87 290.99,169.04 291.44,170.74 291.90,168.58 292.36,169.31 292.82,171.01 293.28,167.62 293.73,167.25 294.19,166.96 294.65,168.41 295.11,168.68 295.57,170.45 296.02,166.96 296.48,168.00 296.94,168.30 297.40,168.18"/>
<polyline stroke="#c8e020" stroke-width="1.4" points="63.36,166.79 63.82,169.09 64.28,170.15 64.73,166.10 65.19,170.52 65.65,169.41 66.11,168.40 66.57,170.48 67.02,169.24 67.48,166.66 67.94,167.78 68.40,167.98 68.86,170.58 69.31,168.70 69.77,170.10 70.23,168.88 70.69,168.88 71.15,168.71 71.60,169.21 72.06,167.07 72.52,168.53 72.98,166.48 73.44,169.08 73.89,170.00 74.35,169.03 74.81,166.65 75.27,169.01 75.73,166.89 76.18,167.47 76.64,169.48 77.10,169.78 77.56,170.15 78.02,168.60 78.47,167.47 78.93,169.31 79.39,166.27 79.85,170.60 80.31,167.05 80.76,169.88 81.22,166.07 81.68,170.21 82.14,166.42 82.60,168.82 83.05,169.35 83.51,170.48 83.97,169.66 84.43,168.90 84.89,166.35 85.34,166.21 85.80,170.30 86.26,168.08 86.72,170.52 87.18,170.19 87.63,167.83 88.09,168.24 88.55,166.52 89.01,166.50 89.47,169.93 89.92,167.75 90.38,166.95 90.84,167.11 91.30,168.05 91.76,168.31 92.21,168.03 92.67,168.76 93.13,168.06 93.59,166.56 94.05,169.06 94.50,168.64 94.96,168.65 95.42,166.67 95.88,169.54 96.34,168.64 96.79,167.20 97.25,168.86 97.71,166.72 98.17,168.19 98.63,170.21 99.08,168.98 99.54,169.99 100.00,168.64 100.46,168.99 100.92,169.10 101.37,166.84 101.83,166.53 102.29,167.18 102.75,167.14 103.21,166.55 103.66,166.44 104.12,169.86 104.58,166.53 105.04,169.92 105.50,169.41 105.95,167.02 106.41,170.01 106.87,166.22 107.33,166.37 107.79,170.67 108.24,167.73 108.70,166.40 109.16,168.18 109.62,168.19 110.08,167.96 110.53,168.12 110.99,167.99 111.45,167.53 111.91,166.26 112.37,170.29 112.82,169.59 113.28,170.64 113.74,170.36 114.20,169.74 114.66,166.51 115.11,169.21 115.57,167.90 116.03,169.22 116.49,166.11 116.95,169.78 117.40,168.85 117.86,168.96 118.32,169.68 118.78,170.33 119.24,168.86 119.69,169.74 120.15,170.56 120.61,166.59 121.07,169.09 121.53,170.61 121.98,167.83 122.44,168.46 122.90,167.49 123.36,169.01 123.82,170.02 124.27,167.72 124.73,168.83 125.19,166.63 125.65,169.16 126.11,169.64 126.56,169.81 127.02,169.50 127.48,169.61 127.94,168.37 128.40,169.13 128.85,166.50 129.31,170.11 129.77,166.89 130.23,169.79 130.69,169.29 131.14,167.32 131.60,168.32 132.06,167.78 132.52,169.87 132.98,171.22 133.43,170.13 133.89,170.66 134.35,174.03 134.81,174.48 135.27,171.97 135.72,174.02 136.18,175.02 136.64,178.98 137.10,183.78 137.56,184.89 138.01,191.66 138.47,185.49 138.93,197.15 139.39,187.09 139.85,204.76 140.30,187.85 140.76,210.94 141.22,191.57 141.68,212.67 142.14,194.82 142.59,212.67 143.05,199.86 143.51,212.67 143.97,206.56 144.43,212.67 144.88,212.67 145.34,212.67"/>
<polyline stroke="#c8e020" stroke-width="1.3" points="180.61,40.63 181.07,39.87 181.52,40.56 181.98,39.71 182.44,41.78 182.90,41.56 183.36,41.50 183.81,41.54 184.27,41.82 184.73,40.18 185.19,41.78 185.65,41.36 186.10,41.19 186.56,39.55 187.02,41.63 187.48,40.50 187.94,41.64 188.39,40.16 188.85,41.45 189.31,42.60 189.77,41.03 190.23,41.61 190.68,41.83 191.14,41.75 191.60,42.66 192.06,40.38 192.52,40.95 192.97,40.67 193.43,40.88 193.89,41.47 194.35,41.23 194.81,41.17 195.26,39.79 195.72,41.57 196.18,42.19 196.64,42.40 197.10,41.61 197.55,40.87 198.01,40.84 198.47,40.39 198.93,40.60 199.39,42.40 199.84,41.44 200.30,41.50 200.76,42.31 201.22,40.82 201.68,40.24 202.13,42.53 202.59,41.01 203.05,42.29 203.51,40.23 203.97,40.92 204.42,42.46 204.88,41.05 205.34,41.91 205.80,42.01 206.26,40.58 206.71,41.40 207.17,39.76 207.63,39.80 208.09,39.99 208.55,41.38 209.00,39.83 209.46,42.44 209.92,40.24 210.38,41.54 210.84,39.96 211.29,42.57 211.75,40.86 212.21,42.44 212.67,41.74 213.13,40.90 213.58,42.23 214.04,40.49 214.50,41.06 214.96,41.96 215.42,40.98 215.87,41.27 216.33,42.56 216.79,40.44 217.25,40.43 217.71,39.82 218.16,39.72 218.62,41.50 219.08,40.65 219.54,40.76 220.00,42.50 220.45,40.40 220.91,41.81 221.37,41.33 221.83,40.72 222.29,41.08 222.74,41.79 223.20,39.93 223.66,42.37 224.12,51.12 224.58,74.24 225.03,85.00 225.49,93.26 225.95,100.57 226.41,108.18 226.87,115.90 227.32,125.52 227.78,132.88 228.24,149.75 228.70,155.73 229.16,156.88 229.61,159.16 230.07,161.28 230.53,165.96 230.99,164.04 231.45,169.48 231.90,166.61 232.36,167.38 232.82,166.36 233.28,166.30 233.74,168.41 234.19,169.39 234.65,166.61 235.11,169.38 235.57,169.29 236.03,168.21 236.48,170.17 236.94,168.73 237.40,170.19 237.86,168.74 238.32,166.66 238.77,166.60 239.23,166.42 239.69,167.49 240.15,167.39 240.61,168.86 241.06,166.71 241.52,170.21 241.98,170.06 242.44,170.28 242.90,168.95 243.35,170.55 243.81,167.59 244.27,169.98 244.73,167.66 245.19,168.23 245.64,167.65 246.10,167.60 246.56,167.21 247.02,168.62 247.48,168.20 247.93,169.67 248.39,168.52 248.85,170.41 249.31,166.44 249.77,166.56 250.22,170.48 250.68,170.77 251.14,169.01 251.60,168.40 252.06,168.62 252.51,169.27 252.97,167.96 253.43,168.98 253.89,168.96 254.35,170.67 254.80,168.10 255.26,170.44 255.72,166.88 256.18,168.63 256.64,169.19 257.09,167.79 257.55,166.76 258.01,170.05 258.47,168.98 258.93,166.35 259.38,166.86 259.84,169.03 260.30,169.16 260.76,167.08 261.22,170.43 261.67,170.28 262.13,168.20 262.59,168.21 263.05,168.21 263.51,167.31 263.96,166.78 264.42,168.99 264.88,169.33 265.34,166.92 265.80,169.70 266.25,166.80 266.71,167.58 267.17,166.93 267.63,167.90 268.09,170.33 268.54,167.54 269.00,168.54 269.46,169.98 269.92,170.35 270.38,169.61 270.83,170.25 271.29,170.20 271.75,166.95 272.21,166.46 272.67,166.25 273.12,168.25 273.58,168.22 274.04,170.55 274.50,170.28 274.96,167.28 275.41,168.20 275.87,168.22 276.33,167.36 276.79,167.09 277.25,167.56 277.70,170.77 278.16,168.32 278.62,166.99 279.08,167.06 279.54,166.47 279.99,168.44 280.45,168.42 280.91,170.71 281.37,168.47 281.83,168.23 282.28,166.61 282.74,166.76 283.20,170.53 283.66,170.17 284.12,169.07 284.57,167.24 285.03,170.06 285.49,167.27 285.95,168.10 286.41,166.79 286.86,169.25 287.32,168.97 287.78,170.55 288.24,168.44 288.70,167.27 289.15,168.47 289.61,168.43 290.07,166.62 290.53,167.30 290.99,169.38 291.44,166.48 291.90,167.49 292.36,169.44 292.82,169.85 293.28,167.72 293.73,168.49 294.19,168.07 294.65,170.23 295.11,167.31 295.57,166.87 296.02,168.89 296.48,169.42 296.94,166.35 297.40,166.35"/>
<polyline stroke="#fde725" stroke-width="1.4" points="63.36,169.73 63.82,167.80 64.28,168.28 64.73,169.01 65.19,167.90 65.65,167.21 66.11,168.61 66.57,168.88 67.02,166.30 67.48,167.26 67.94,168.89 68.40,169.59 68.86,168.53 69.31,165.95 69.77,166.45 70.23,169.34 70.69,167.50 71.15,170.29 71.60,166.10 72.06,165.94 72.52,169.31 72.98,168.72 73.44,168.91 73.89,169.45 74.35,167.14 74.81,168.56 75.27,170.29 75.73,169.29 76.18,167.24 76.64,167.05 77.10,170.24 77.56,167.76 78.02,167.35 78.47,167.35 78.93,167.29 79.39,166.69 79.85,168.76 80.31,166.36 80.76,168.26 81.22,170.03 81.68,167.29 82.14,168.72 82.60,167.36 83.05,168.58 83.51,168.00 83.97,167.73 84.43,167.02 84.89,168.94 85.34,167.20 85.80,169.23 86.26,166.64 86.72,169.24 87.18,169.98 87.63,170.13 88.09,167.53 88.55,168.81 89.01,167.64 89.47,168.87 89.92,168.27 90.38,166.27 90.84,166.02 91.30,170.11 91.76,165.91 92.21,167.97 92.67,166.88 93.13,165.99 93.59,169.44 94.05,168.54 94.50,166.19 94.96,167.90 95.42,166.14 95.88,166.42 96.34,165.67 96.79,167.24 97.25,170.00 97.71,166.12 98.17,169.45 98.63,169.59 99.08,168.60 99.54,169.35 100.00,169.67 100.46,167.35 100.92,166.08 101.37,169.09 101.83,168.58 102.29,167.33 102.75,168.92 103.21,168.02 103.66,166.07 104.12,169.77 104.58,167.83 105.04,169.32 105.50,166.72 105.95,169.35 106.41,166.55 106.87,168.44 107.33,165.99 107.79,168.63 108.24,168.02 108.70,169.82 109.16,169.03 109.62,168.38 110.08,166.16 110.53,167.59 110.99,166.55 111.45,166.35 111.91,169.89 112.37,168.85 112.82,166.45 113.28,166.80 113.74,167.69 114.20,168.44 114.66,168.00 115.11,170.24 115.57,169.72 116.03,168.66 116.49,169.66 116.95,169.24 117.40,166.57 117.86,166.74 118.32,166.92 118.78,167.68 119.24,166.03 119.69,169.25 120.15,167.43 120.61,168.36 121.07,165.94 121.53,168.72 121.98,169.21 122.44,166.74 122.90,166.55 123.36,166.97 123.82,166.67 124.27,169.42 124.73,167.50 125.19,167.82 125.65,166.09 126.11,168.47 126.56,169.17 127.02,168.88 127.48,167.93 127.94,165.74 128.40,167.07 128.85,166.97 129.31,168.14 129.77,168.47 130.23,165.99 130.69,168.22 131.14,169.73 131.60,166.69 132.06,169.38 132.52,168.53 132.98,167.58 133.43,166.71 133.89,170.70 134.35,167.97 134.81,170.59 135.27,168.66 135.72,169.13 136.18,170.12 136.64,171.47 137.10,172.19 137.56,172.10 138.01,176.56 138.47,178.71 138.93,182.96 139.39,186.33 139.85,194.10 140.30,203.14 140.76,210.63 141.22,212.67 141.68,212.67 142.14,212.67 142.59,212.67 143.05,212.67 143.51,212.67 143.97,212.67 144.43,212.67 144.88,212.67 145.34,212.67"/>
<polyline stroke="#fde725" points="145.34,212.67 145.80,212.67 146.26,212.67 146.72,212.67 147.17,212.67 147.63,212.67 148.09,212.67 148.55,212.67 149.01,212.67 149.46,212.67 149.92,212.67 150.38,212.67 150.84,212.67 151.30,212.67 151.75,212.67 152.21,212.67 152.67,212.67 153.13,212.67 153.59,212.67 154.04,212.67 154.50,212.67 154.96,212.67 155.42,212.67 155.88,212.67 156.33,212.67 156.79,212.67 157.25,212.67 157.71,212.67 158.17,212.67 158.62,212.67 159.08,212.67 159.54,212.67 160.00,212.67 160.46,212.67 160.91,212.67 161.37,212.67 161.83,212.67 162.29,212.67 162.75,212.67 163.20,212.67 163.66,212.67 164.12,212.67 164.58,212.67 165.04,212.67 165.49,212.67 165.95,212.67 166.41,212.67 166.87,212.67 167.33,212.67 167.78,212.67 168.24,212.67 168.70,212.67 169.16,212.67 169.62,212.67 170.07,212.67 170.53,212.67 170.99,212.67 171.45,212.67 171.91,212.67 172.36,212.67 172.82,212.67 173.28,212.67 173.74,212.67 174.20,212.67 174.65,212.67 175.11,212.67 175.57,212.67 176.03,212.67 176.49,212.67 176.94,212.67 177.40,212.67 177.86,212.67 178.32,212.67 178.78,212.67 179.23,212.67 179.69,212.67 180.15,212.67 180.61,39.64 181.07,39.80"/>
<polyline stroke="#fde725" stroke-width="1.3" points="180.61,39.64 181.07,39.80 181.52,42.11 181.98,40.18 182.44,40.79 182.90,39.70 183.36,41.75 183.81,40.77 184.27,40.74 184.73,42.07 185.19,40.79 185.65,40.39 186.10,40.14 186.56,39.99 187.02,42.58 187.48,40.29 187.94,41.65 188.39,40.27 188.85,42.19 189.31,41.49 189.77,41.39 190.23,40.49 190.68,40.74 191.14,40.12 191.60,42.64 192.06,41.77 192.52,40.36 192.97,41.91 193.43,40.02 193.89,41.69 194.35,40.58 194.81,42.49 195.26,39.80 195.72,42.31 196.18,41.38 196.64,41.45 197.10,41.71 197.55,40.99 198.01,41.02 198.47,40.18 198.93,39.62 199.39,40.16 199.84,40.40 200.30,42.04 200.76,42.00 201.22,42.62 201.68,42.37 202.13,40.21 202.59,42.48 203.05,41.82 203.51,41.46 203.97,42.17 204.42,41.60 204.88,41.87 205.34,41.38 205.80,42.10 206.26,42.58 206.71,39.82 207.17,40.34 207.63,40.25 208.09,41.87 208.55,39.72 209.00,40.06 209.46,41.39 209.92,41.76 210.38,40.18 210.84,42.60 211.29,40.87 211.75,39.95 212.21,39.81 212.67,39.77 213.13,41.32 213.58,42.61 214.04,41.57 214.50,41.82 214.96,40.85 215.42,40.39 215.87,39.60 216.33,41.66 216.79,41.53 217.25,42.39 217.71,40.06 218.16,41.10 218.62,41.93 219.08,41.09 219.54,41.15 220.00,40.11 220.45,41.94 220.91,41.08 221.37,41.27 221.83,42.35 222.29,42.23 222.74,41.91 223.20,41.30 223.66,40.93 224.12,40.33 224.58,39.82 225.03,42.38 225.49,48.41 225.95,120.62 226.41,135.73 226.87,141.18 227.32,146.46 227.78,160.69 228.24,167.74 228.70,166.69 229.16,168.97"/>
<polyline stroke="#fde725" stroke-width="1.5" points="229.16,168.97 229.61,168.79 230.07,166.07 230.53,167.62 230.99,165.88 231.45,170.03 231.90,166.02 232.36,170.05 232.82,166.84 233.28,167.62 233.74,169.75 234.19,168.91 234.65,168.08 235.11,167.72 235.57,168.05 236.03,170.19 236.48,165.69 236.94,168.68 237.40,166.96 237.86,166.00 238.32,165.79 238.77,169.46 239.23,166.17 239.69,167.93 240.15,167.27 240.61,169.17 241.06,169.64 241.52,167.62 241.98,166.12 242.44,168.37 242.90,165.88 243.35,167.03 243.81,170.23 244.27,165.97 244.73,169.79 245.19,169.28 245.64,167.70 246.10,165.95 246.56,169.69 247.02,168.93 247.48,170.10 247.93,169.90 248.39,168.31 248.85,167.64 249.31,167.94 249.77,170.09 250.22,168.32 250.68,168.25 251.14,165.97 251.60,168.79 252.06,167.37 252.51,168.05 252.97,166.70 253.43,167.51 253.89,165.70 254.35,167.35 254.80,168.73 255.26,168.36 255.72,166.34 256.18,168.60 256.64,166.01 257.09,168.27 257.55,165.93 258.01,169.61 258.47,166.67 258.93,168.25 259.38,169.26 259.84,167.57 260.30,170.04 260.76,169.38 261.22,166.38 261.67,167.88 262.13,168.74 262.59,169.64 263.05,169.57 263.51,169.25 263.96,168.17 264.42,170.22 264.88,169.36 265.34,168.32 265.80,166.21 266.25,166.29 266.71,165.97 267.17,169.27 267.63,169.74 268.09,166.37 268.54,167.07 269.00,169.17 269.46,168.30 269.92,166.02 270.38,166.52 270.83,165.96 271.29,168.02 271.75,169.42 272.21,167.81 272.67,169.79 273.12,169.77 273.58,169.89 274.04,169.14 274.50,169.55 274.96,169.12 275.41,167.08 275.87,167.19 276.33,170.19 276.79,166.32 277.25,166.50 277.70,165.93 278.16,169.30 278.62,166.92 279.08,167.73 279.54,167.03 279.99,166.12 280.45,169.94 280.91,166.40 281.37,166.32 281.83,167.32 282.28,168.45 282.74,167.80 283.20,169.66 283.66,166.85 284.12,167.75 284.57,167.64 285.03,167.02 285.49,169.84 285.95,170.09 286.41,169.76 286.86,169.94 287.32,166.59 287.78,169.70 288.24,168.56 288.70,167.26 289.15,169.12 289.61,166.08 290.07,166.07 290.53,168.50 290.99,167.59 291.44,166.66 291.90,165.75 292.36,167.09 292.82,168.22 293.28,170.11 293.73,167.33 294.19,167.25 294.65,167.09 295.11,168.70 295.57,166.31 296.02,167.56 296.48,168.55 296.94,169.18 297.40,170.17"/>
<polyline stroke="#2ca02c" stroke-opacity="0.38" stroke-width="1.5" stroke-dasharray="4.3 1.53" points="63.36,212.67 63.82,212.67 64.28,212.67 64.73,212.67 65.19,212.67 65.65,212.67 66.11,212.67 66.57,212.67 67.02,212.67 67.48,212.67 67.94,212.67 68.40,212.67 68.86,212.67 69.31,212.67 69.77,212.67 70.23,212.67 70.69,212.67 71.15,212.67 71.60,212.67 72.06,212.67 72.52,212.67 72.98,212.67 73.44,212.67 73.89,212.67 74.35,212.67 74.81,212.67 75.27,212.67 75.73,212.67 76.18,212.67 76.64,212.67 77.10,212.67 77.56,212.67 78.02,212.67 78.47,212.67 78.93,212.67 79.39,212.67 79.85,212.67 80.31,212.67 80.76,212.67 81.22,212.67 81.68,212.67 82.14,212.67 82.60,212.67 83.05,212.67 83.51,212.67 83.97,212.67 84.43,212.67 84.89,212.67 85.34,212.67 85.80,212.67 86.26,212.67 86.72,212.67 87.18,212.67 87.63,212.67 88.09,212.67 88.55,212.67 89.01,212.67 89.47,212.67 89.92,212.67 90.38,212.67 90.84,212.67 91.30,212.67 91.76,212.67 92.21,212.67 92.67,212.67 93.13,212.67 93.59,212.67 94.05,212.67 94.50,212.67 94.96,212.67 95.42,212.67 95.88,212.67 96.34,212.67 96.79,212.67 97.25,212.67 97.71,212.67 98.17,212.67 98.63,212.67 99.08,212.67 99.54,212.67 100.00,212.67 100.46,212.67 100.92,212.67 101.37,212.67 101.83,212.67 102.29,212.67 102.75,212.67 103.21,212.67 103.66,212.67 104.12,212.67 104.58,212.67 105.04,212.67 105.50,212.67 105.95,212.67 106.41,212.67 106.87,212.67 107.33,212.67 107.79,212.67 108.24,212.67 108.70,212.67 109.16,212.67 109.62,212.67 110.08,212.67 110.53,212.67 110.99,212.67 111.45,212.67 111.91,212.67 112.37,212.67 112.82,212.67 113.28,212.67 113.74,212.67 114.20,212.67 114.66,212.67 115.11,212.67 115.57,212.67 116.03,212.67 116.49,212.67 116.95,212.67 117.40,212.67 117.86,212.67 118.32,212.67 118.78,212.67 119.24,212.67 119.69,212.67 120.15,212.67 120.61,212.67 121.07,212.67 121.53,212.67 121.98,212.67 122.44,212.67 122.90,212.67 123.36,212.67 123.82,212.67 124.27,212.67 124.73,212.67 125.19,212.67 125.65,212.67 126.11,212.67 126.56,212.67 127.02,212.67 127.48,212.67 127.94,212.67 128.40,212.67 128.85,212.67 129.31,212.67 129.77,212.67 130.23,212.67 130.69,212.67 131.14,212.67 131.60,212.67 132.06,212.67 132.52,212.67 132.98,212.67 133.43,212.67 133.89,212.67 134.35,212.67 134.81,212.67 135.27,212.67 135.72,212.67 136.18,212.67 136.64,212.67 137.10,212.67 137.56,212.67 138.01,212.67 138.47,212.67 138.93,212.67 139.39,212.67 139.85,212.67 140.30,212.67 140.76,212.67 141.22,212.67 141.68,212.67 142.14,212.67 142.59,212.67 143.05,212.67 143.51,212.67 143.97,212.67 144.43,212.67 144.88,212.67 145.34,212.67 145.80,212.67 146.26,212.67 146.72,212.67 147.17,212.67 147.63,212.67 148.09,212.67 148.55,212.67 149.01,212.67 149.46,212.67 149.92,212.67 150.38,212.67 150.84,212.67 151.30,212.67 151.75,212.67 152.21,212.67 152.67,212.67 153.13,212.67 153.59,212.67 154.04,212.67 154.50,212.67 154.96,212.67 155.42,212.67 155.88,212.67 156.33,212.67 156.79,212.67 157.25,212.67 157.71,212.67 158.17,212.67 158.62,212.67 159.08,212.67 159.54,212.67 160.00,212.67 160.46,212.67 160.91,212.67 161.37,212.67 161.83,212.67 162.29,212.67 162.75,212.67 163.20,212.67 163.66,212.67 164.12,212.67 164.58,212.67 165.04,212.67 165.49,212.67 165.95,212.67 166.41,212.67 166.87,212.67 167.33,212.67 167.78,212.67 168.24,212.67 168.70,212.67 169.16,212.67 169.62,212.67 170.07,212.67 170.53,212.67 170.99,212.67 171.45,212.67 171.91,212.67 172.36,212.67 172.82,212.67 173.28,212.67 173.74,212.67 174.20,212.67 174.65,212.67 175.11,212.67 175.57,212.67 176.03,212.67 176.49,212.67 176.94,212.67 177.40,212.67 177.86,212.67 178.32,212.67 178.78,212.67 179.23,212.67 179.69,212.67 180.15,212.67 180.61,40.92 181.07,40.92 181.52,40.92 181.98,40.92 182.44,40.92 182.90,40.92 183.36,40.92 183.81,40.92 184.27,40.92 184.73,40.92 185.19,40.92 185.65,40.92 186.10,40.92 186.56,40.92 187.02,40.92 187.48,40.92 187.94,40.92 188.39,40.92 188.85,40.92 189.31,40.92 189.77,40.92 190.23,40.92 190.68,40.92 191.14,40.92 191.60,40.92 192.06,40.92 192.52,40.92 192.97,40.92 193.43,40.92 193.89,40.92 194.35,40.92 194.81,40.92 195.26,40.92 195.72,40.92 196.18,40.92 196.64,40.92 197.10,40.92 197.55,40.92 198.01,40.92 198.47,40.92 198.93,40.92 199.39,40.92 199.84,40.92 200.30,40.92 200.76,40.92 201.22,40.92 201.68,40.92 202.13,40.92 202.59,40.92 203.05,40.92 203.51,40.92 203.97,40.92 204.42,40.92 204.88,40.92 205.34,40.92 205.80,40.92 206.26,40.92 206.71,40.92 207.17,40.92 207.63,40.92 208.09,40.92 208.55,40.92 209.00,40.92 209.46,40.92 209.92,40.92 210.38,40.92 210.84,40.92 211.29,40.92 211.75,40.92 212.21,40.92 212.67,40.92 213.13,40.92 213.58,40.92 214.04,40.92 214.50,40.92 214.96,40.92 215.42,40.92 215.87,40.92 216.33,40.92 216.79,40.92 217.25,40.92 217.71,40.92 218.16,40.92 218.62,40.92 219.08,40.92 219.54,40.92 220.00,40.92 220.45,40.92 220.91,40.92 221.37,40.92 221.83,40.92 222.29,40.92 222.74,40.92 223.20,40.92 223.66,40.92 224.12,40.92 224.58,40.92 225.03,40.92 225.49,40.92 225.95,40.92 226.41,40.92 226.87,40.92 227.32,40.92 227.78,40.92 228.24,40.92 228.70,40.92 229.16,40.92 229.61,40.92 230.07,40.92 230.53,40.92 230.99,40.92 231.45,40.92 231.90,40.92 232.36,40.92 232.82,40.92 233.28,40.92 233.74,40.92 234.19,40.92 234.65,40.92 235.11,40.92 235.57,40.92 236.03,40.92 236.48,40.92 236.94,40.92 237.40,40.92 237.86,40.92 238.32,40.92 238.77,40.92 239.23,40.92 239.69,40.92 240.15,40.92 240.61,40.92 241.06,40.92 241.52,40.92 241.98,40.92 242.44,40.92 242.90,40.92 243.35,40.92 243.81,40.92 244.27,40.92 244.73,40.92 245.19,40.92 245.64,40.92 246.10,40.92 246.56,40.92 247.02,40.92 247.48,40.92 247.93,40.92 248.39,40.92 248.85,40.92 249.31,40.92 249.77,40.92 250.22,40.92 250.68,40.92 251.14,40.92 251.60,40.92 252.06,40.92 252.51,40.92 252.97,40.92 253.43,40.92 253.89,40.92 254.35,40.92 254.80,40.92 255.26,40.92 255.72,40.92 256.18,40.92 256.64,40.92 257.09,40.92 257.55,40.92 258.01,40.92 258.47,40.92 258.93,40.92 259.38,40.92 259.84,40.92 260.30,40.92 260.76,40.92 261.22,40.92 261.67,40.92 262.13,40.92 262.59,40.92 263.05,40.92 263.51,40.92 263.96,40.92 264.42,40.92 264.88,40.92 265.34,40.92 265.80,40.92 266.25,40.92 266.71,40.92 267.17,40.92 267.63,40.92 268.09,40.92 268.54,40.92 269.00,40.92 269.46,40.92 269.92,40.92 270.38,40.92 270.83,40.92 271.29,40.92 271.75,40.92 272.21,40.92 272.67,40.92 273.12,40.92 273.58,40.92 274.04,40.92 274.50,40.92 274.96,40.92 275.41,40.92 275.87,40.92 276.33,40.92 276.79,40.92 277.25,40.92 277.70,40.92 278.16,40.92 278.62,40.92 279.08,40.92 279.54,40.92 279.99,40.92 280.45,40.92 280.91,40.92 281.37,40.92 281.83,40.92 282.28,40.92 282.74,40.92 283.20,40.92 283.66,40.92 284.12,40.92 284.57,40.92 285.03,40.92 285.49,40.92 285.95,40.92 286.41,40.92 286.86,40.92 287.32,40.92 287.78,40.92 288.24,40.92 288.70,40.92 289.15,40.92 289.61,40.92 290.07,40.92 290.53,40.92 290.99,40.92 291.44,40.92 291.90,40.92 292.36,40.92 292.82,40.92 293.28,40.92 293.73,40.92 294.19,40.92 294.65,40.92 295.11,40.92 295.57,40.92 296.02,40.92 296.48,40.92 296.94,40.92 297.40,40.92"/>
</g>
<rect x="51.9" y="29.85" width="257.65" height="191.35" fill="none" stroke="#000" stroke-width="0.75"/>
<g stroke="#000" stroke-width="0.75">
<line x1="63.36" x2="63.36" y1="221.2" y2="223.89999999999998"/>
<line x1="109.16" x2="109.16" y1="221.2" y2="223.89999999999998"/>
<line x1="154.96" x2="154.96" y1="221.2" y2="223.89999999999998"/>
<line x1="200.76" x2="200.76" y1="221.2" y2="223.89999999999998"/>
<line x1="246.56" x2="246.56" y1="221.2" y2="223.89999999999998"/>
<line x1="292.36" x2="292.36" y1="221.2" y2="223.89999999999998"/>
<line x1="51.9" x2="49.199999999999996" y1="212.67" y2="212.67"/>
<line x1="51.9" x2="49.199999999999996" y1="176.93" y2="176.93"/>
<line x1="51.9" x2="49.199999999999996" y1="141.18" y2="141.18"/>
<line x1="51.9" x2="49.199999999999996" y1="105.44" y2="105.44"/>
<line x1="51.9" x2="49.199999999999996" y1="69.69" y2="69.69"/>
<line x1="51.9" x2="49.199999999999996" y1="33.95" y2="33.95"/>
<line x1="334.9" x2="337.59999999999997" y1="197.28" y2="197.28"/>
<line x1="334.9" x2="337.59999999999997" y1="157.42" y2="157.42"/>
<line x1="334.9" x2="337.59999999999997" y1="117.55" y2="117.55"/>
<line x1="334.9" x2="337.59999999999997" y1="77.69" y2="77.69"/>
<line x1="334.9" x2="337.59999999999997" y1="37.82" y2="37.82"/>
</g>
<rect x="325.5" y="206.48" width="9.40" height="15.02" fill="#440154"/>
<rect x="325.5" y="191.76" width="9.40" height="15.02" fill="#481f70"/>
<rect x="325.5" y="177.04" width="9.40" height="15.02" fill="#443983"/>
<rect x="325.5" y="162.32" width="9.40" height="15.02" fill="#3b528b"/>
<rect x="325.5" y="147.60" width="9.40" height="15.02" fill="#31688e"/>
<rect x="325.5" y="132.88" width="9.40" height="15.02" fill="#287c8e"/>
<rect x="325.5" y="118.17" width="9.40" height="15.02" fill="#21918c"/>
<rect x="325.5" y="103.45" width="9.40" height="15.02" fill="#20a486"/>
<rect x="325.5" y="88.73" width="9.40" height="15.02" fill="#35b779"/>
<rect x="325.5" y="74.01" width="9.40" height="15.02" fill="#5ec962"/>
<rect x="325.5" y="59.29" width="9.40" height="15.02" fill="#90d743"/>
<rect x="325.5" y="44.57" width="9.40" height="15.02" fill="#c8e020"/>
<rect x="325.5" y="29.85" width="9.40" height="15.02" fill="#fde725"/>
<rect x="325.5" y="29.85" width="9.40" height="191.35" fill="none" stroke="#000" stroke-width="0.75"/>
<g font-family="'DejaVu Sans', 'Liberation Sans', sans-serif" fill="#000" stroke="#000" stroke-width="0.26">
<text x="63.36" y="235.4" font-size="11.5" text-anchor="middle">0</text>
<text x="109.16" y="235.4" font-size="11.5" text-anchor="middle">100</text>
<text x="154.96" y="235.4" font-size="11.5" text-anchor="middle">200</text>
<text x="200.76" y="235.4" font-size="11.5" text-anchor="middle">300</text>
<text x="246.56" y="235.4" font-size="11.5" text-anchor="middle">400</text>
<text x="292.36" y="235.4" font-size="11.5" text-anchor="middle">500</text>
<text x="46.65" y="217.02" font-size="11.5" text-anchor="end">0</text>
<text x="46.65" y="181.28" font-size="11.5" text-anchor="end">200</text>
<text x="46.65" y="145.53" font-size="11.5" text-anchor="end">400</text>
<text x="46.65" y="109.79" font-size="11.5" text-anchor="end">600</text>
<text x="46.65" y="74.04" font-size="11.5" text-anchor="end">800</text>
<text x="46.65" y="38.30" font-size="11.5" text-anchor="end">1000</text>
<text x="340.20" y="201.63" font-size="11.5">5</text>
<text x="340.20" y="161.77" font-size="11.5">10</text>
<text x="340.20" y="121.90" font-size="11.5">15</text>
<text x="340.20" y="82.04" font-size="11.5">20</text>
<text x="340.20" y="42.17" font-size="11.5">25</text>
<text x="180.22" y="249.2" font-size="11.45" text-anchor="middle">Λ Column Index</text>
<text transform="translate(12.0,125.72) rotate(-90)" font-size="11.45" text-anchor="middle">Standard Deviation</text>
<text transform="translate(366.1,125.42) rotate(-90)" font-size="11.45" text-anchor="middle">BKZ2 Block Size <tspan font-style="italic">β</tspan></text>
<rect x="57.2" y="35.45" width="105.6" height="20.7" rx="2" ry="2" fill="#fff" fill-opacity="0.8" stroke="#ccc" stroke-width="0.75"/>
<line x1="62.0" x2="85.7" y1="45.0" y2="45.0" stroke="#2ca02c" stroke-opacity="0.38" stroke-width="1.5" stroke-dasharray="4.3 1.53"/>
<text x="94.6" y="49.05" font-size="11.6">Input Basis</text>
</g>
</svg>
</body></html>
